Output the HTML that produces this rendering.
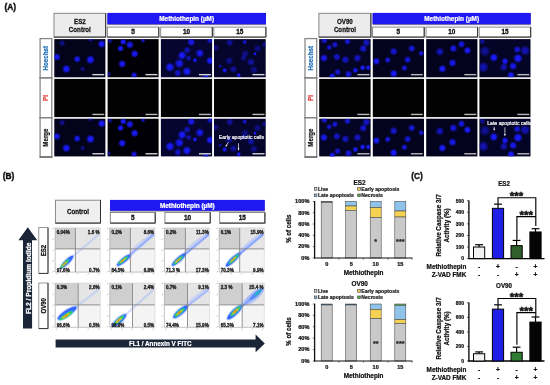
<!DOCTYPE html>
<html><head><meta charset="utf-8"><title>Figure</title>
<style>html,body{margin:0;padding:0;background:#fff}svg{display:block}text{font-family:"Liberation Sans", sans-serif}</style>
</head><body>
<svg width="550" height="385" viewBox="0 0 550 385">
<rect width="550" height="385" fill="#fff"/>
<defs>
<filter id="b1" x="-50%" y="-50%" width="200%" height="200%"><feGaussianBlur stdDeviation="0.65"/></filter>
<filter id="b2" x="-50%" y="-50%" width="200%" height="200%"><feGaussianBlur stdDeviation="0.6"/></filter>
<filter id="b3" x="-50%" y="-50%" width="200%" height="200%"><feGaussianBlur stdDeviation="0.35"/></filter>
<radialGradient id="cg"><stop offset="0" stop-color="#1c1cfa"/><stop offset="0.45" stop-color="#1818f0"/><stop offset="0.72" stop-color="#1414d0" stop-opacity="0.55"/><stop offset="1" stop-color="#1010a0" stop-opacity="0"/></radialGradient>
</defs>
<text transform="translate(4.40 9.90) scale(1 1.12)" font-size="8.4" font-weight="bold" fill="#111" stroke="#111" stroke-width="0.4" text-anchor="start" >(A)</text>
<text transform="translate(2.70 179.20) scale(1 1.12)" font-size="8.4" font-weight="bold" fill="#111" stroke="#111" stroke-width="0.4" text-anchor="start" >(B)</text>
<text transform="translate(411.20 178.90) scale(1 1.12)" font-size="8.4" font-weight="bold" fill="#111" stroke="#111" stroke-width="0.4" text-anchor="start" >(C)</text>
<rect x="54.00" y="13.30" width="51.70" height="23.80" fill="#ececec" stroke="#7d7d7d" stroke-width="0.9"/>
<path d="M105.70 13.30 L105.70 37.10 L54.00 37.10" fill="none" stroke="#2e2e2e" stroke-width="1.00"/>
<text transform="translate(79.85 23.90) scale(1 1.2)" font-size="6.2" font-weight="bold" fill="#111" stroke="#111" stroke-width="0.22" text-anchor="middle" >ES2</text>
<text transform="translate(79.85 31.50) scale(1 1.2)" font-size="6.2" font-weight="bold" fill="#111" stroke="#111" stroke-width="0.22" text-anchor="middle" >Control</text>
<rect x="107.50" y="13.9" width="158.50" height="11.3" fill="#9a9a9a"/>
<rect x="107.30" y="12.9" width="158.70" height="11.4" fill="#2018f2"/>
<text transform="translate(186.65 20.90) scale(1 1.12)" font-size="6.4" font-weight="bold" fill="#fff" stroke="#fff" stroke-width="0.22" text-anchor="middle" >Methiothepin (µM)</text>
<rect x="107.40" y="27.10" width="51.40" height="10.00" fill="#fff" stroke="#7d7d7d" stroke-width="0.9"/>
<path d="M158.80 27.10 L158.80 37.10 L107.40 37.10" fill="none" stroke="#2e2e2e" stroke-width="1.00"/>
<text transform="translate(133.10 34.30) scale(1 1.12)" font-size="6.4" font-weight="bold" fill="#111" stroke="#111" stroke-width="0.3" text-anchor="middle" >5</text>
<rect x="160.70" y="27.10" width="51.60" height="10.00" fill="#fff" stroke="#7d7d7d" stroke-width="0.9"/>
<path d="M212.30 27.10 L212.30 37.10 L160.70 37.10" fill="none" stroke="#2e2e2e" stroke-width="1.00"/>
<text transform="translate(186.50 34.30) scale(1 1.12)" font-size="6.4" font-weight="bold" fill="#111" stroke="#111" stroke-width="0.3" text-anchor="middle" >10</text>
<rect x="213.80" y="27.10" width="52.10" height="10.00" fill="#fff" stroke="#7d7d7d" stroke-width="0.9"/>
<path d="M265.90 27.10 L265.90 37.10 L213.80 37.10" fill="none" stroke="#2e2e2e" stroke-width="1.00"/>
<text transform="translate(239.85 34.30) scale(1 1.12)" font-size="6.4" font-weight="bold" fill="#111" stroke="#111" stroke-width="0.3" text-anchor="middle" >15</text>
<rect x="40.10" y="38.60" width="11.70" height="39.50" fill="#fff" stroke="#868686" stroke-width="1.25"/>
<line x1="39.60" y1="78.10" x2="52.40" y2="78.10" stroke="#3a3a3a" stroke-width="0.9"/>
<text transform="translate(45.95 58.20) rotate(-90) scale(1 1.1)" x="0" y="2.23" font-size="6.2" font-weight="bold" fill="#1f6eb4" stroke="#1f6eb4" stroke-width="0.22" text-anchor="middle">Hoechst</text>
<clipPath id="c1"><rect x="54.30" y="39.10" width="51.10" height="38.20"/></clipPath>
<rect x="54.30" y="39.10" width="51.10" height="38.20" fill="#03031c"/>
<g clip-path="url(#c1)"><g>
<circle cx="101.72" cy="43.99" r="4.30" fill="url(#cg)" fill-opacity="1.00"/>
<circle cx="90.48" cy="59.69" r="4.73" fill="url(#cg)" fill-opacity="1.00"/>
<circle cx="77.19" cy="59.16" r="3.87" fill="url(#cg)" fill-opacity="0.95"/>
<circle cx="56.85" cy="57.05" r="4.02" fill="url(#cg)" fill-opacity="0.95"/>
<circle cx="66.36" cy="68.97" r="4.59" fill="url(#cg)" fill-opacity="1.00"/>
<circle cx="62.17" cy="43.15" r="3.59" fill="url(#cg)" fill-opacity="0.46"/>
<circle cx="82.61" cy="68.97" r="2.87" fill="url(#cg)" fill-opacity="0.46"/>
<circle cx="90.58" cy="39.10" r="3.16" fill="url(#cg)" fill-opacity="0.55"/>
</g></g>
<rect x="92.32" y="73.94" width="11.86" height="1.4" fill="#d6d6d6"/>
<clipPath id="c2"><rect x="107.60" y="39.10" width="51.00" height="38.20"/></clipPath>
<rect x="107.60" y="39.10" width="51.00" height="38.20" fill="#000006"/>
<g clip-path="url(#c2)"><g>
<circle cx="123.21" cy="41.89" r="3.59" fill="url(#cg)" fill-opacity="1.00"/>
<circle cx="129.78" cy="44.75" r="4.30" fill="url(#cg)" fill-opacity="0.91"/>
<circle cx="120.60" cy="48.50" r="3.59" fill="url(#cg)" fill-opacity="1.00"/>
<circle cx="134.63" cy="53.81" r="4.30" fill="url(#cg)" fill-opacity="0.95"/>
<circle cx="122.19" cy="63.93" r="4.30" fill="url(#cg)" fill-opacity="0.95"/>
<circle cx="134.12" cy="75.16" r="3.59" fill="url(#cg)" fill-opacity="0.86"/>
<circle cx="142.99" cy="40.48" r="2.58" fill="url(#cg)" fill-opacity="0.73"/>
<circle cx="110.15" cy="41.01" r="2.87" fill="url(#cg)" fill-opacity="0.55"/>
<circle cx="108.62" cy="74.09" r="2.87" fill="url(#cg)" fill-opacity="0.55"/>
</g></g>
<rect x="145.54" y="73.94" width="11.83" height="1.4" fill="#d6d6d6"/>
<clipPath id="c3"><rect x="160.90" y="39.10" width="51.20" height="38.20"/></clipPath>
<rect x="160.90" y="39.10" width="51.20" height="38.20" fill="#05052f"/>
<g clip-path="url(#c3)"><g>
<circle cx="191.26" cy="42.08" r="4.30" fill="url(#cg)" fill-opacity="0.91"/>
<circle cx="210.05" cy="40.48" r="3.59" fill="url(#cg)" fill-opacity="0.73"/>
<circle cx="187.11" cy="50.10" r="4.02" fill="url(#cg)" fill-opacity="0.64"/>
<circle cx="199.81" cy="53.23" r="4.73" fill="url(#cg)" fill-opacity="0.91"/>
<circle cx="182.15" cy="55.41" r="4.73" fill="url(#cg)" fill-opacity="1.00"/>
<circle cx="188.70" cy="58.09" r="3.16" fill="url(#cg)" fill-opacity="0.64"/>
<circle cx="194.95" cy="60.22" r="2.58" fill="url(#cg)" fill-opacity="1.00"/>
<circle cx="210.05" cy="60.76" r="4.30" fill="url(#cg)" fill-opacity="1.00"/>
<circle cx="179.33" cy="63.43" r="5.02" fill="url(#cg)" fill-opacity="0.91"/>
<circle cx="169.96" cy="67.18" r="5.02" fill="url(#cg)" fill-opacity="1.00"/>
<circle cx="186.91" cy="71.42" r="4.73" fill="url(#cg)" fill-opacity="1.00"/>
<circle cx="177.80" cy="73.02" r="4.02" fill="url(#cg)" fill-opacity="0.73"/>
<circle cx="205.85" cy="77.30" r="4.02" fill="url(#cg)" fill-opacity="0.82"/>
</g></g>
<rect x="198.99" y="73.94" width="11.88" height="1.4" fill="#d6d6d6"/>
<clipPath id="c4"><rect x="214.00" y="39.10" width="51.70" height="38.20"/></clipPath>
<rect x="214.00" y="39.10" width="51.70" height="38.20" fill="#05052c"/>
<g clip-path="url(#c4)"><g>
<circle cx="229.77" cy="42.61" r="4.02" fill="url(#cg)" fill-opacity="0.51"/>
<circle cx="244.66" cy="42.08" r="2.58" fill="url(#cg)" fill-opacity="0.82"/>
<circle cx="215.55" cy="47.89" r="3.59" fill="url(#cg)" fill-opacity="0.46"/>
<circle cx="264.41" cy="44.75" r="2.87" fill="url(#cg)" fill-opacity="0.46"/>
<circle cx="257.58" cy="48.50" r="4.02" fill="url(#cg)" fill-opacity="0.42"/>
<circle cx="255.00" cy="53.81" r="2.01" fill="url(#cg)" fill-opacity="1.00"/>
<circle cx="245.02" cy="53.81" r="4.30" fill="url(#cg)" fill-opacity="0.42"/>
<circle cx="243.47" cy="58.09" r="3.59" fill="url(#cg)" fill-opacity="0.42"/>
<circle cx="229.25" cy="60.76" r="4.30" fill="url(#cg)" fill-opacity="0.46"/>
<circle cx="250.97" cy="62.13" r="4.30" fill="url(#cg)" fill-opacity="0.55"/>
<circle cx="220.31" cy="66.11" r="2.01" fill="url(#cg)" fill-opacity="0.64"/>
<circle cx="224.70" cy="70.35" r="2.87" fill="url(#cg)" fill-opacity="0.91"/>
<circle cx="233.44" cy="69.28" r="4.02" fill="url(#cg)" fill-opacity="0.55"/>
<circle cx="253.91" cy="69.81" r="4.30" fill="url(#cg)" fill-opacity="0.42"/>
<circle cx="238.71" cy="75.16" r="2.58" fill="url(#cg)" fill-opacity="1.00"/>
</g></g>
<rect x="252.46" y="73.94" width="11.99" height="1.4" fill="#d6d6d6"/>
<rect x="40.10" y="78.10" width="11.70" height="39.80" fill="#fff" stroke="#868686" stroke-width="1.25"/>
<line x1="39.60" y1="117.90" x2="52.40" y2="117.90" stroke="#3a3a3a" stroke-width="0.9"/>
<text transform="translate(45.95 98.00) rotate(-90) scale(1 1.1)" x="0" y="2.23" font-size="6.2" font-weight="bold" fill="#e23a3a" stroke="#e23a3a" stroke-width="0.22" text-anchor="middle">PI</text>
<clipPath id="c5"><rect x="54.30" y="78.90" width="51.10" height="38.20"/></clipPath>
<rect x="54.30" y="78.90" width="51.10" height="38.20" fill="#020202"/>
<rect x="92.32" y="113.74" width="11.86" height="1.4" fill="#b8b8b8"/>
<clipPath id="c6"><rect x="107.60" y="78.90" width="51.00" height="38.20"/></clipPath>
<rect x="107.60" y="78.90" width="51.00" height="38.20" fill="#020202"/>
<rect x="145.54" y="113.74" width="11.83" height="1.4" fill="#b8b8b8"/>
<clipPath id="c7"><rect x="160.90" y="78.90" width="51.20" height="38.20"/></clipPath>
<rect x="160.90" y="78.90" width="51.20" height="38.20" fill="#020202"/>
<rect x="198.99" y="113.74" width="11.88" height="1.4" fill="#b8b8b8"/>
<clipPath id="c8"><rect x="214.00" y="78.90" width="51.70" height="38.20"/></clipPath>
<rect x="214.00" y="78.90" width="51.70" height="38.20" fill="#020202"/>
<rect x="252.46" y="113.74" width="11.99" height="1.4" fill="#b8b8b8"/>
<rect x="40.10" y="117.90" width="11.70" height="39.10" fill="#fff" stroke="#868686" stroke-width="1.25"/>
<line x1="39.60" y1="157.00" x2="52.40" y2="157.00" stroke="#3a3a3a" stroke-width="0.9"/>
<text transform="translate(45.95 137.55) rotate(-90) scale(1 1.1)" x="0" y="2.23" font-size="6.2" font-weight="bold" fill="#111" stroke="#111" stroke-width="0.22" text-anchor="middle">Merge</text>
<clipPath id="c9"><rect x="54.30" y="118.70" width="51.10" height="37.70"/></clipPath>
<rect x="54.30" y="118.70" width="51.10" height="37.70" fill="#03031c"/>
<g clip-path="url(#c9)"><g>
<circle cx="101.72" cy="123.53" r="4.30" fill="url(#cg)" fill-opacity="1.00"/>
<circle cx="90.48" cy="139.02" r="4.73" fill="url(#cg)" fill-opacity="1.00"/>
<circle cx="77.19" cy="138.49" r="3.87" fill="url(#cg)" fill-opacity="0.95"/>
<circle cx="56.85" cy="136.42" r="4.02" fill="url(#cg)" fill-opacity="0.95"/>
<circle cx="66.36" cy="148.18" r="4.59" fill="url(#cg)" fill-opacity="1.00"/>
<circle cx="62.17" cy="122.70" r="3.59" fill="url(#cg)" fill-opacity="0.46"/>
<circle cx="82.61" cy="148.18" r="2.87" fill="url(#cg)" fill-opacity="0.46"/>
<circle cx="90.58" cy="118.70" r="3.16" fill="url(#cg)" fill-opacity="0.55"/>
</g></g>
<rect x="92.32" y="153.08" width="11.86" height="1.4" fill="#d6d6d6"/>
<clipPath id="c10"><rect x="107.60" y="118.70" width="51.00" height="37.70"/></clipPath>
<rect x="107.60" y="118.70" width="51.00" height="37.70" fill="#000006"/>
<g clip-path="url(#c10)"><g>
<circle cx="123.21" cy="121.45" r="3.59" fill="url(#cg)" fill-opacity="1.00"/>
<circle cx="129.78" cy="124.28" r="4.30" fill="url(#cg)" fill-opacity="0.91"/>
<circle cx="120.60" cy="127.97" r="3.59" fill="url(#cg)" fill-opacity="1.00"/>
<circle cx="134.63" cy="133.21" r="4.30" fill="url(#cg)" fill-opacity="0.95"/>
<circle cx="122.19" cy="143.21" r="4.30" fill="url(#cg)" fill-opacity="0.95"/>
<circle cx="134.12" cy="154.29" r="3.59" fill="url(#cg)" fill-opacity="0.86"/>
<circle cx="142.99" cy="120.06" r="2.58" fill="url(#cg)" fill-opacity="0.73"/>
<circle cx="110.15" cy="120.59" r="2.87" fill="url(#cg)" fill-opacity="0.55"/>
<circle cx="108.62" cy="153.23" r="2.87" fill="url(#cg)" fill-opacity="0.55"/>
</g></g>
<rect x="145.54" y="153.08" width="11.83" height="1.4" fill="#d6d6d6"/>
<clipPath id="c11"><rect x="160.90" y="118.70" width="51.20" height="37.70"/></clipPath>
<rect x="160.90" y="118.70" width="51.20" height="37.70" fill="#05052f"/>
<g clip-path="url(#c11)"><g>
<circle cx="191.26" cy="121.64" r="4.30" fill="url(#cg)" fill-opacity="0.91"/>
<circle cx="210.05" cy="120.06" r="3.59" fill="url(#cg)" fill-opacity="0.73"/>
<circle cx="187.11" cy="129.56" r="4.02" fill="url(#cg)" fill-opacity="0.64"/>
<circle cx="199.81" cy="132.65" r="4.73" fill="url(#cg)" fill-opacity="0.91"/>
<circle cx="182.15" cy="134.80" r="4.73" fill="url(#cg)" fill-opacity="1.00"/>
<circle cx="188.70" cy="137.44" r="3.16" fill="url(#cg)" fill-opacity="0.64"/>
<circle cx="194.95" cy="139.55" r="2.58" fill="url(#cg)" fill-opacity="1.00"/>
<circle cx="210.05" cy="140.08" r="4.30" fill="url(#cg)" fill-opacity="1.00"/>
<circle cx="179.33" cy="142.71" r="5.02" fill="url(#cg)" fill-opacity="0.91"/>
<circle cx="169.96" cy="146.41" r="5.02" fill="url(#cg)" fill-opacity="1.00"/>
<circle cx="186.91" cy="150.59" r="4.73" fill="url(#cg)" fill-opacity="1.00"/>
<circle cx="177.80" cy="152.18" r="4.02" fill="url(#cg)" fill-opacity="0.73"/>
<circle cx="205.85" cy="156.40" r="4.02" fill="url(#cg)" fill-opacity="0.82"/>
</g></g>
<rect x="198.99" y="153.08" width="11.88" height="1.4" fill="#d6d6d6"/>
<clipPath id="c12"><rect x="214.00" y="118.70" width="51.70" height="37.70"/></clipPath>
<rect x="214.00" y="118.70" width="51.70" height="37.70" fill="#05052c"/>
<g clip-path="url(#c12)"><g>
<circle cx="229.77" cy="122.17" r="4.02" fill="url(#cg)" fill-opacity="0.51"/>
<circle cx="244.66" cy="121.64" r="2.58" fill="url(#cg)" fill-opacity="0.82"/>
<circle cx="215.55" cy="127.37" r="3.59" fill="url(#cg)" fill-opacity="0.46"/>
<circle cx="264.41" cy="124.28" r="2.87" fill="url(#cg)" fill-opacity="0.46"/>
<circle cx="257.58" cy="127.97" r="4.02" fill="url(#cg)" fill-opacity="0.42"/>
<circle cx="255.00" cy="133.21" r="2.01" fill="url(#cg)" fill-opacity="1.00"/>
<circle cx="245.02" cy="133.21" r="4.30" fill="url(#cg)" fill-opacity="0.42"/>
<circle cx="243.47" cy="137.44" r="3.59" fill="url(#cg)" fill-opacity="0.42"/>
<circle cx="229.25" cy="140.08" r="4.30" fill="url(#cg)" fill-opacity="0.46"/>
<circle cx="250.97" cy="141.43" r="4.30" fill="url(#cg)" fill-opacity="0.55"/>
<circle cx="220.31" cy="145.35" r="2.01" fill="url(#cg)" fill-opacity="0.64"/>
<circle cx="224.70" cy="149.54" r="2.87" fill="url(#cg)" fill-opacity="0.91"/>
<circle cx="233.44" cy="148.48" r="4.02" fill="url(#cg)" fill-opacity="0.55"/>
<circle cx="253.91" cy="149.01" r="4.30" fill="url(#cg)" fill-opacity="0.42"/>
<circle cx="238.71" cy="154.29" r="2.58" fill="url(#cg)" fill-opacity="1.00"/>
</g></g>
<rect x="252.46" y="153.08" width="11.99" height="1.4" fill="#d6d6d6"/>
<rect x="318.90" y="13.30" width="52.00" height="23.80" fill="#ececec" stroke="#7d7d7d" stroke-width="0.9"/>
<path d="M370.90 13.30 L370.90 37.10 L318.90 37.10" fill="none" stroke="#2e2e2e" stroke-width="1.00"/>
<text transform="translate(344.90 23.90) scale(1 1.2)" font-size="6.2" font-weight="bold" fill="#111" stroke="#111" stroke-width="0.22" text-anchor="middle" >OV90</text>
<text transform="translate(344.90 31.50) scale(1 1.2)" font-size="6.2" font-weight="bold" fill="#111" stroke="#111" stroke-width="0.22" text-anchor="middle" >Control</text>
<rect x="372.70" y="13.9" width="158.10" height="11.3" fill="#9a9a9a"/>
<rect x="372.50" y="12.9" width="158.30" height="11.4" fill="#2018f2"/>
<text transform="translate(451.65 20.90) scale(1 1.12)" font-size="6.4" font-weight="bold" fill="#fff" stroke="#fff" stroke-width="0.22" text-anchor="middle" >Methiothepin (µM)</text>
<rect x="372.60" y="27.10" width="51.60" height="10.00" fill="#fff" stroke="#7d7d7d" stroke-width="0.9"/>
<path d="M424.20 27.10 L424.20 37.10 L372.60 37.10" fill="none" stroke="#2e2e2e" stroke-width="1.00"/>
<text transform="translate(398.40 34.30) scale(1 1.12)" font-size="6.4" font-weight="bold" fill="#111" stroke="#111" stroke-width="0.3" text-anchor="middle" >5</text>
<rect x="426.00" y="27.10" width="51.60" height="10.00" fill="#fff" stroke="#7d7d7d" stroke-width="0.9"/>
<path d="M477.60 27.10 L477.60 37.10 L426.00 37.10" fill="none" stroke="#2e2e2e" stroke-width="1.00"/>
<text transform="translate(451.80 34.30) scale(1 1.12)" font-size="6.4" font-weight="bold" fill="#111" stroke="#111" stroke-width="0.3" text-anchor="middle" >10</text>
<rect x="479.20" y="27.10" width="51.50" height="10.00" fill="#fff" stroke="#7d7d7d" stroke-width="0.9"/>
<path d="M530.70 27.10 L530.70 37.10 L479.20 37.10" fill="none" stroke="#2e2e2e" stroke-width="1.00"/>
<text transform="translate(504.95 34.30) scale(1 1.12)" font-size="6.4" font-weight="bold" fill="#111" stroke="#111" stroke-width="0.3" text-anchor="middle" >15</text>
<rect x="305.00" y="38.60" width="11.70" height="39.50" fill="#fff" stroke="#868686" stroke-width="1.25"/>
<line x1="304.50" y1="78.10" x2="317.30" y2="78.10" stroke="#3a3a3a" stroke-width="0.9"/>
<text transform="translate(310.85 58.20) rotate(-90) scale(1 1.1)" x="0" y="2.23" font-size="6.2" font-weight="bold" fill="#1f6eb4" stroke="#1f6eb4" stroke-width="0.22" text-anchor="middle">Hoechst</text>
<clipPath id="c13"><rect x="319.20" y="39.10" width="51.40" height="38.20"/></clipPath>
<rect x="319.20" y="39.10" width="51.40" height="38.20" fill="#040424"/>
<g clip-path="url(#c13)"><g>
<circle cx="324.34" cy="40.48" r="3.59" fill="url(#cg)" fill-opacity="0.82"/>
<circle cx="347.47" cy="41.54" r="3.59" fill="url(#cg)" fill-opacity="0.82"/>
<circle cx="366.39" cy="42.61" r="4.30" fill="url(#cg)" fill-opacity="0.73"/>
<circle cx="334.93" cy="44.75" r="3.59" fill="url(#cg)" fill-opacity="0.78"/>
<circle cx="329.17" cy="47.43" r="3.16" fill="url(#cg)" fill-opacity="0.78"/>
<circle cx="363.25" cy="48.50" r="4.30" fill="url(#cg)" fill-opacity="0.78"/>
<circle cx="323.93" cy="58.09" r="4.30" fill="url(#cg)" fill-opacity="0.91"/>
<circle cx="336.83" cy="57.02" r="4.02" fill="url(#cg)" fill-opacity="0.78"/>
<circle cx="345.41" cy="59.69" r="4.30" fill="url(#cg)" fill-opacity="0.73"/>
<circle cx="357.49" cy="58.09" r="4.30" fill="url(#cg)" fill-opacity="0.73"/>
<circle cx="362.74" cy="67.71" r="3.16" fill="url(#cg)" fill-opacity="1.00"/>
<circle cx="368.29" cy="67.71" r="2.87" fill="url(#cg)" fill-opacity="1.00"/>
<circle cx="355.39" cy="70.35" r="3.16" fill="url(#cg)" fill-opacity="1.00"/>
<circle cx="337.55" cy="71.95" r="3.59" fill="url(#cg)" fill-opacity="0.82"/>
<circle cx="348.55" cy="74.09" r="4.02" fill="url(#cg)" fill-opacity="0.86"/>
<circle cx="332.31" cy="76.23" r="3.59" fill="url(#cg)" fill-opacity="1.00"/>
</g></g>
<rect x="357.44" y="73.94" width="11.92" height="1.4" fill="#b8b8b8"/>
<clipPath id="c14"><rect x="372.80" y="39.10" width="51.20" height="38.20"/></clipPath>
<rect x="372.80" y="39.10" width="51.20" height="38.20" fill="#03031e"/>
<g clip-path="url(#c14)"><g>
<circle cx="411.76" cy="48.50" r="4.02" fill="url(#cg)" fill-opacity="0.82"/>
<circle cx="393.69" cy="51.48" r="4.30" fill="url(#cg)" fill-opacity="0.78"/>
<circle cx="421.18" cy="53.31" r="3.16" fill="url(#cg)" fill-opacity="0.82"/>
<circle cx="376.44" cy="61.29" r="4.02" fill="url(#cg)" fill-opacity="1.00"/>
<circle cx="387.75" cy="60.00" r="3.44" fill="url(#cg)" fill-opacity="0.86"/>
<circle cx="407.62" cy="59.69" r="4.02" fill="url(#cg)" fill-opacity="0.82"/>
<circle cx="404.44" cy="68.02" r="3.44" fill="url(#cg)" fill-opacity="0.86"/>
<circle cx="393.69" cy="73.56" r="4.30" fill="url(#cg)" fill-opacity="1.00"/>
</g></g>
<rect x="410.89" y="73.94" width="11.88" height="1.4" fill="#b8b8b8"/>
<clipPath id="c15"><rect x="426.20" y="39.10" width="51.20" height="38.20"/></clipPath>
<rect x="426.20" y="39.10" width="51.20" height="38.20" fill="#03031e"/>
<g clip-path="url(#c15)"><g>
<circle cx="461.53" cy="44.22" r="4.02" fill="url(#cg)" fill-opacity="0.86"/>
<circle cx="453.34" cy="48.50" r="4.30" fill="url(#cg)" fill-opacity="0.86"/>
<circle cx="467.47" cy="50.41" r="4.02" fill="url(#cg)" fill-opacity="1.00"/>
<circle cx="439.77" cy="51.71" r="4.59" fill="url(#cg)" fill-opacity="0.69"/>
<circle cx="452.52" cy="62.90" r="4.30" fill="url(#cg)" fill-opacity="0.91"/>
<circle cx="442.38" cy="68.78" r="4.30" fill="url(#cg)" fill-opacity="1.00"/>
</g></g>
<rect x="464.29" y="73.94" width="11.88" height="1.4" fill="#b8b8b8"/>
<clipPath id="c16"><rect x="479.40" y="39.10" width="51.10" height="38.20"/></clipPath>
<rect x="479.40" y="39.10" width="51.10" height="38.20" fill="#040426"/>
<g clip-path="url(#c16)"><g>
<circle cx="482.31" cy="41.54" r="3.16" fill="url(#cg)" fill-opacity="0.55"/>
<circle cx="484.92" cy="51.17" r="5.74" fill="url(#cg)" fill-opacity="0.51"/>
<circle cx="517.21" cy="49.57" r="4.02" fill="url(#cg)" fill-opacity="0.82"/>
<circle cx="525.08" cy="50.56" r="5.45" fill="url(#cg)" fill-opacity="0.64"/>
<circle cx="493.81" cy="57.55" r="4.59" fill="url(#cg)" fill-opacity="1.00"/>
<circle cx="517.98" cy="58.31" r="5.02" fill="url(#cg)" fill-opacity="1.00"/>
<circle cx="505.05" cy="61.29" r="3.73" fill="url(#cg)" fill-opacity="1.00"/>
<circle cx="483.39" cy="67.18" r="5.74" fill="url(#cg)" fill-opacity="0.64"/>
<circle cx="503.72" cy="67.18" r="4.30" fill="url(#cg)" fill-opacity="0.64"/>
<circle cx="513.13" cy="66.11" r="4.30" fill="url(#cg)" fill-opacity="0.91"/>
<circle cx="510.98" cy="75.16" r="4.02" fill="url(#cg)" fill-opacity="1.00"/>
</g></g>
<rect x="517.42" y="73.94" width="11.86" height="1.4" fill="#b8b8b8"/>
<rect x="305.00" y="78.10" width="11.70" height="39.80" fill="#fff" stroke="#868686" stroke-width="1.25"/>
<line x1="304.50" y1="117.90" x2="317.30" y2="117.90" stroke="#3a3a3a" stroke-width="0.9"/>
<text transform="translate(310.85 98.00) rotate(-90) scale(1 1.1)" x="0" y="2.23" font-size="6.2" font-weight="bold" fill="#e23a3a" stroke="#e23a3a" stroke-width="0.22" text-anchor="middle">PI</text>
<clipPath id="c17"><rect x="319.20" y="78.90" width="51.40" height="38.20"/></clipPath>
<rect x="319.20" y="78.90" width="51.40" height="38.20" fill="#020202"/>
<rect x="357.44" y="113.74" width="11.92" height="1.4" fill="#b8b8b8"/>
<clipPath id="c18"><rect x="372.80" y="78.90" width="51.20" height="38.20"/></clipPath>
<rect x="372.80" y="78.90" width="51.20" height="38.20" fill="#020202"/>
<rect x="410.89" y="113.74" width="11.88" height="1.4" fill="#b8b8b8"/>
<clipPath id="c19"><rect x="426.20" y="78.90" width="51.20" height="38.20"/></clipPath>
<rect x="426.20" y="78.90" width="51.20" height="38.20" fill="#020202"/>
<rect x="464.29" y="113.74" width="11.88" height="1.4" fill="#b8b8b8"/>
<clipPath id="c20"><rect x="479.40" y="78.90" width="51.10" height="38.20"/></clipPath>
<rect x="479.40" y="78.90" width="51.10" height="38.20" fill="#020202"/>
<rect x="517.42" y="113.74" width="11.86" height="1.4" fill="#b8b8b8"/>
<rect x="305.00" y="117.90" width="11.70" height="39.10" fill="#fff" stroke="#868686" stroke-width="1.25"/>
<line x1="304.50" y1="157.00" x2="317.30" y2="157.00" stroke="#3a3a3a" stroke-width="0.9"/>
<text transform="translate(310.85 137.55) rotate(-90) scale(1 1.1)" x="0" y="2.23" font-size="6.2" font-weight="bold" fill="#111" stroke="#111" stroke-width="0.22" text-anchor="middle">Merge</text>
<clipPath id="c21"><rect x="319.20" y="118.70" width="51.40" height="37.70"/></clipPath>
<rect x="319.20" y="118.70" width="51.40" height="37.70" fill="#040424"/>
<g clip-path="url(#c21)"><g>
<circle cx="324.34" cy="120.06" r="3.59" fill="url(#cg)" fill-opacity="0.82"/>
<circle cx="347.47" cy="121.11" r="3.59" fill="url(#cg)" fill-opacity="0.82"/>
<circle cx="366.39" cy="122.17" r="4.30" fill="url(#cg)" fill-opacity="0.73"/>
<circle cx="334.93" cy="124.28" r="3.59" fill="url(#cg)" fill-opacity="0.78"/>
<circle cx="329.17" cy="126.92" r="3.16" fill="url(#cg)" fill-opacity="0.78"/>
<circle cx="363.25" cy="127.97" r="4.30" fill="url(#cg)" fill-opacity="0.78"/>
<circle cx="323.93" cy="137.44" r="4.30" fill="url(#cg)" fill-opacity="0.91"/>
<circle cx="336.83" cy="136.38" r="4.02" fill="url(#cg)" fill-opacity="0.78"/>
<circle cx="345.41" cy="139.02" r="4.30" fill="url(#cg)" fill-opacity="0.73"/>
<circle cx="357.49" cy="137.44" r="4.30" fill="url(#cg)" fill-opacity="0.73"/>
<circle cx="362.74" cy="146.94" r="3.16" fill="url(#cg)" fill-opacity="1.00"/>
<circle cx="368.29" cy="146.94" r="2.87" fill="url(#cg)" fill-opacity="1.00"/>
<circle cx="355.39" cy="149.54" r="3.16" fill="url(#cg)" fill-opacity="1.00"/>
<circle cx="337.55" cy="151.12" r="3.59" fill="url(#cg)" fill-opacity="0.82"/>
<circle cx="348.55" cy="153.23" r="4.02" fill="url(#cg)" fill-opacity="0.86"/>
<circle cx="332.31" cy="155.34" r="3.59" fill="url(#cg)" fill-opacity="1.00"/>
</g></g>
<rect x="357.44" y="153.08" width="11.92" height="1.4" fill="#b8b8b8"/>
<clipPath id="c22"><rect x="372.80" y="118.70" width="51.20" height="37.70"/></clipPath>
<rect x="372.80" y="118.70" width="51.20" height="37.70" fill="#03031e"/>
<g clip-path="url(#c22)"><g>
<circle cx="411.76" cy="127.97" r="4.02" fill="url(#cg)" fill-opacity="0.82"/>
<circle cx="393.69" cy="130.91" r="4.30" fill="url(#cg)" fill-opacity="0.78"/>
<circle cx="421.18" cy="132.72" r="3.16" fill="url(#cg)" fill-opacity="0.82"/>
<circle cx="376.44" cy="140.60" r="4.02" fill="url(#cg)" fill-opacity="1.00"/>
<circle cx="387.75" cy="139.32" r="3.44" fill="url(#cg)" fill-opacity="0.86"/>
<circle cx="407.62" cy="139.02" r="4.02" fill="url(#cg)" fill-opacity="0.82"/>
<circle cx="404.44" cy="147.24" r="3.44" fill="url(#cg)" fill-opacity="0.86"/>
<circle cx="393.69" cy="152.71" r="4.30" fill="url(#cg)" fill-opacity="1.00"/>
</g></g>
<rect x="410.89" y="153.08" width="11.88" height="1.4" fill="#b8b8b8"/>
<clipPath id="c23"><rect x="426.20" y="118.70" width="51.20" height="37.70"/></clipPath>
<rect x="426.20" y="118.70" width="51.20" height="37.70" fill="#03031e"/>
<g clip-path="url(#c23)"><g>
<circle cx="461.53" cy="123.75" r="4.02" fill="url(#cg)" fill-opacity="0.86"/>
<circle cx="453.34" cy="127.97" r="4.30" fill="url(#cg)" fill-opacity="0.86"/>
<circle cx="467.47" cy="129.86" r="4.02" fill="url(#cg)" fill-opacity="1.00"/>
<circle cx="439.77" cy="131.14" r="4.59" fill="url(#cg)" fill-opacity="0.69"/>
<circle cx="452.52" cy="142.19" r="4.30" fill="url(#cg)" fill-opacity="0.91"/>
<circle cx="442.38" cy="147.99" r="4.30" fill="url(#cg)" fill-opacity="1.00"/>
</g></g>
<rect x="464.29" y="153.08" width="11.88" height="1.4" fill="#b8b8b8"/>
<clipPath id="c24"><rect x="479.40" y="118.70" width="51.10" height="37.70"/></clipPath>
<rect x="479.40" y="118.70" width="51.10" height="37.70" fill="#040426"/>
<g clip-path="url(#c24)"><g>
<circle cx="482.31" cy="121.11" r="3.16" fill="url(#cg)" fill-opacity="0.55"/>
<circle cx="484.92" cy="130.61" r="5.74" fill="url(#cg)" fill-opacity="0.51"/>
<circle cx="517.21" cy="129.03" r="4.02" fill="url(#cg)" fill-opacity="0.82"/>
<circle cx="525.08" cy="130.01" r="5.45" fill="url(#cg)" fill-opacity="0.64"/>
<circle cx="493.81" cy="136.91" r="4.59" fill="url(#cg)" fill-opacity="1.00"/>
<circle cx="517.98" cy="137.66" r="5.02" fill="url(#cg)" fill-opacity="1.00"/>
<circle cx="505.05" cy="140.60" r="3.73" fill="url(#cg)" fill-opacity="1.00"/>
<circle cx="483.39" cy="146.41" r="5.74" fill="url(#cg)" fill-opacity="0.64"/>
<circle cx="503.72" cy="146.41" r="4.30" fill="url(#cg)" fill-opacity="0.64"/>
<circle cx="513.13" cy="145.35" r="4.30" fill="url(#cg)" fill-opacity="0.91"/>
<circle cx="510.98" cy="154.29" r="4.02" fill="url(#cg)" fill-opacity="1.00"/>
</g></g>
<rect x="517.42" y="153.08" width="11.86" height="1.4" fill="#b8b8b8"/>
<text transform="translate(241.40 139.00) scale(1 1.12)" font-size="5.1" font-weight="normal" fill="#f4f4f4" stroke="#f4f4f4" stroke-width="0.22" text-anchor="middle" >Early apoptotic cells</text>
<g stroke="#fff" stroke-width="0.7" fill="#fff">
<line x1="228.3" y1="142.3" x2="226.4" y2="145.6"/><path d="M225.6 146.9 L225.9 144.6 L227.5 145.6Z" stroke="none"/>
<line x1="238.5" y1="143.3" x2="238.5" y2="149.5"/><path d="M238.5 150.6 L237.5 148.6 L239.5 148.6Z" stroke="none"/>
<line x1="494.2" y1="126.8" x2="494.2" y2="129.6"/><path d="M494.2 130.8 L493.2 128.8 L495.2 128.8Z" stroke="none"/>
<line x1="504.9" y1="127.3" x2="504.9" y2="135"/><path d="M504.9 136.2 L503.9 134.2 L505.9 134.2Z" stroke="none"/>
</g>
<text transform="translate(509.20 124.90) scale(1 1.12)" font-size="5.15" font-weight="normal" fill="#f4f4f4" stroke="#f4f4f4" stroke-width="0.22" text-anchor="middle" >Late apoptotic cells</text>
<path d="M27.8 227.2 L37.2 240.2 L32 240.2 L32.1 328.4 L23.0 328.4 L23.0 240.2 L18.4 240.2 Z" fill="#1a2638"/>
<text transform="translate(27.90 278.30) rotate(-90) scale(1 1.2)" x="0" y="2.39" font-size="6.65" font-weight="bold" fill="#fff" stroke="#fff" stroke-width="0.22" text-anchor="middle">FL2 / Propidium Iodide</text>
<path d="M55.6 339.4 L255.6 339.4 L255.6 334.6 L264.8 343.4 L255.6 352.2 L255.6 347.4 L55.6 347.4 Z" fill="#1a2638"/>
<text transform="translate(160.20 345.70) scale(1 1.12)" font-size="6.3" font-weight="bold" fill="#fff" stroke="#fff" stroke-width="0.22" text-anchor="middle" >FL1 / Annexin V FITC</text>
<rect x="55.40" y="200.20" width="45.10" height="22.90" fill="#efefef" stroke="#7d7d7d" stroke-width="0.9"/>
<path d="M100.50 200.20 L100.50 223.10 L55.40 223.10" fill="none" stroke="#2e2e2e" stroke-width="1.00"/>
<text transform="translate(78.00 214.20) scale(1 1.2)" font-size="6.2" font-weight="bold" fill="#111" stroke="#111" stroke-width="0.22" text-anchor="middle" >Control</text>
<rect x="110.2" y="200.9" width="154.6" height="10.8" fill="#9a9a9a"/>
<rect x="110.0" y="199.9" width="154.8" height="10.9" fill="#2018f2"/>
<text transform="translate(187.30 207.50) scale(1 1.12)" font-size="6.4" font-weight="bold" fill="#fff" stroke="#fff" stroke-width="0.22" text-anchor="middle" >Methiothepin (µM)</text>
<rect x="110.30" y="212.50" width="44.90" height="10.60" fill="#fff" stroke="#7d7d7d" stroke-width="0.9"/>
<path d="M155.20 212.50 L155.20 223.10 L110.30 223.10" fill="none" stroke="#2e2e2e" stroke-width="1.00"/>
<text transform="translate(132.70 220.40) scale(1 1.12)" font-size="6.4" font-weight="bold" fill="#111" stroke="#111" stroke-width="0.3" text-anchor="middle" >5</text>
<rect x="164.90" y="212.50" width="45.30" height="10.60" fill="#fff" stroke="#7d7d7d" stroke-width="0.9"/>
<path d="M210.20 212.50 L210.20 223.10 L164.90 223.10" fill="none" stroke="#2e2e2e" stroke-width="1.00"/>
<text transform="translate(187.50 220.40) scale(1 1.12)" font-size="6.4" font-weight="bold" fill="#111" stroke="#111" stroke-width="0.3" text-anchor="middle" >10</text>
<rect x="219.70" y="212.50" width="45.20" height="10.60" fill="#fff" stroke="#7d7d7d" stroke-width="0.9"/>
<path d="M264.90 212.50 L264.90 223.10 L219.70 223.10" fill="none" stroke="#2e2e2e" stroke-width="1.00"/>
<text transform="translate(242.25 220.40) scale(1 1.12)" font-size="6.4" font-weight="bold" fill="#111" stroke="#111" stroke-width="0.3" text-anchor="middle" >15</text>
<rect x="38.80" y="227.60" width="9.20" height="45.80" fill="#fff" stroke="#7d7d7d" stroke-width="0.8"/>
<path d="M48.00 227.60 L48.00 273.40 L38.80 273.40" fill="none" stroke="#2e2e2e" stroke-width="0.90"/>
<text transform="translate(43.30 250.50) rotate(-90) scale(1 1.25)" x="0" y="2.20" font-size="6.1" font-weight="bold" fill="#111" stroke="#111" stroke-width="0.22" text-anchor="middle">ES2</text>
<rect x="38.80" y="283.00" width="9.20" height="45.60" fill="#fff" stroke="#7d7d7d" stroke-width="0.8"/>
<path d="M48.00 283.00 L48.00 328.60 L38.80 328.60" fill="none" stroke="#2e2e2e" stroke-width="0.90"/>
<text transform="translate(43.30 305.80) rotate(-90) scale(1 1.25)" x="0" y="2.20" font-size="6.1" font-weight="bold" fill="#111" stroke="#111" stroke-width="0.22" text-anchor="middle">OV90</text>
<g transform="translate(55.20 227.90)">
<rect x="0" y="0" width="20.20" height="21.0" fill="#cfcfcf"/>
<rect x="20.20" y="0" width="24.90" height="21.0" fill="#e5e5e5"/>
<rect x="0" y="21.0" width="20.20" height="23.20" fill="#fff"/>
<rect x="20.20" y="21.0" width="24.90" height="23.20" fill="#f4f4f4"/>
<clipPath id="f0"><rect x="0" y="0" width="45.1" height="44.2"/></clipPath>
<g clip-path="url(#f0)">
<g filter="url(#b2)">
<line x1="17.49" y1="28.41" x2="43.20" y2="6.83" stroke="#9db4ff" stroke-width="2.44" stroke-opacity="0.27" stroke-linecap="round"/>
<line x1="11.99" y1="33.91" x2="43.20" y2="6.83" stroke="#4f7cff" stroke-width="0.65" stroke-opacity="0.26" stroke-linecap="round"/>
</g>
<g filter="url(#b2)"><ellipse cx="11.99" cy="33.91" rx="9.38" ry="3.40" transform="rotate(-45.0 11.99 33.91)" fill="#8aa6ff" fill-opacity="0.5"/>
<ellipse cx="11.99" cy="33.91" rx="8.18" ry="2.20" transform="rotate(-45.0 11.99 33.91)" fill="#3566ff"/></g>
<g filter="url(#b3)" transform="rotate(-45.0 9.24 35.98)">
<ellipse cx="9.74" cy="35.98" rx="6.22" ry="1.63" fill="#19c4c0"/>
<ellipse cx="9.54" cy="35.98" rx="5.10" ry="1.23" fill="#45d23a"/>
<ellipse cx="9.24" cy="35.98" rx="3.11" ry="0.75" fill="#f2c41e"/>
<ellipse cx="9.24" cy="35.98" rx="1.74" ry="0.44" fill="#f0601e"/>
</g>
</g>
<line x1="20.20" y1="0" x2="20.20" y2="44.2" stroke="#858585" stroke-width="0.9"/>
<line x1="0" y1="21.0" x2="45.1" y2="21.0" stroke="#858585" stroke-width="0.9"/>
<path d="M0 0 L0 44.2 L45.1 44.2" fill="none" stroke="#9a9a9a" stroke-width="0.6"/>
<path d="M0 0 L45.1 0 L45.1 44.2" fill="none" stroke="#c8c8c8" stroke-width="0.5"/>
<line x1="-2.6" y1="1.00" x2="-1.4" y2="-0.20" stroke="#808080" stroke-width="0.6"/>
<line x1="-2.6" y1="11.85" x2="-1.4" y2="10.65" stroke="#808080" stroke-width="0.6"/>
<line x1="-2.6" y1="22.70" x2="-1.4" y2="21.50" stroke="#808080" stroke-width="0.6"/>
<line x1="-2.6" y1="33.55" x2="-1.4" y2="32.35" stroke="#808080" stroke-width="0.6"/>
<line x1="-2.6" y1="44.40" x2="-1.4" y2="43.20" stroke="#808080" stroke-width="0.6"/>
<line x1="1.00" y1="46.6" x2="2.00" y2="45.400000000000006" stroke="#808080" stroke-width="0.6"/>
<line x1="11.53" y1="46.6" x2="12.53" y2="45.400000000000006" stroke="#808080" stroke-width="0.6"/>
<line x1="22.05" y1="46.6" x2="23.05" y2="45.400000000000006" stroke="#808080" stroke-width="0.6"/>
<line x1="32.58" y1="46.6" x2="33.58" y2="45.400000000000006" stroke="#808080" stroke-width="0.6"/>
<line x1="43.10" y1="46.6" x2="44.10" y2="45.400000000000006" stroke="#808080" stroke-width="0.6"/>
<text transform="translate(1.60 6.10) scale(1 1.12)" font-size="4.55" font-weight="bold" fill="#222" stroke="#222" stroke-width="0.3" text-anchor="start" >0.04%</text>
<text transform="translate(44.30 6.10) scale(1 1.12)" font-size="4.55" font-weight="bold" fill="#222" stroke="#222" stroke-width="0.3" text-anchor="end" >1.6 %</text>
<text transform="translate(1.60 44.10) scale(1 1.12)" font-size="4.55" font-weight="bold" fill="#222" stroke="#222" stroke-width="0.3" text-anchor="start" >97.6%</text>
<text transform="translate(44.30 44.10) scale(1 1.12)" font-size="4.55" font-weight="bold" fill="#222" stroke="#222" stroke-width="0.3" text-anchor="end" >0.7%</text>
</g>
<g transform="translate(109.80 227.90)">
<rect x="0" y="0" width="20.60" height="21.0" fill="#cfcfcf"/>
<rect x="20.60" y="0" width="24.50" height="21.0" fill="#e5e5e5"/>
<rect x="0" y="21.0" width="20.60" height="23.20" fill="#fff"/>
<rect x="20.60" y="21.0" width="24.50" height="23.20" fill="#f4f4f4"/>
<clipPath id="f1"><rect x="0" y="0" width="45.1" height="44.2"/></clipPath>
<g clip-path="url(#f1)">
<g filter="url(#b2)">
<line x1="20.64" y1="27.04" x2="43.60" y2="6.83" stroke="#9db4ff" stroke-width="3.32" stroke-opacity="0.43" stroke-linecap="round"/>
<line x1="14.11" y1="32.19" x2="43.60" y2="6.83" stroke="#4f7cff" stroke-width="1.20" stroke-opacity="0.67" stroke-linecap="round"/>
<ellipse cx="31.12" cy="15.93" rx="15.30" ry="2.3" transform="rotate(-41.4 31.12 15.93)" fill="#a9bcff" fill-opacity="0.47"/>
</g>
<g filter="url(#b2)"><ellipse cx="14.11" cy="32.19" rx="9.92" ry="3.40" transform="rotate(-38.3 14.11 32.19)" fill="#8aa6ff" fill-opacity="0.5"/>
<ellipse cx="14.11" cy="32.19" rx="8.72" ry="2.20" transform="rotate(-38.3 14.11 32.19)" fill="#3566ff"/></g>
<g filter="url(#b3)" transform="rotate(-38.3 13.08 32.54)">
<ellipse cx="13.58" cy="32.54" rx="6.63" ry="1.63" fill="#19c4c0"/>
<ellipse cx="13.38" cy="32.54" rx="5.44" ry="1.23" fill="#45d23a"/>
<ellipse cx="13.08" cy="32.54" rx="3.31" ry="0.75" fill="#f2c41e"/>
<ellipse cx="13.08" cy="32.54" rx="1.86" ry="0.44" fill="#f0601e"/>
</g>
</g>
<line x1="20.60" y1="0" x2="20.60" y2="44.2" stroke="#858585" stroke-width="0.9"/>
<line x1="0" y1="21.0" x2="45.1" y2="21.0" stroke="#858585" stroke-width="0.9"/>
<path d="M0 0 L0 44.2 L45.1 44.2" fill="none" stroke="#9a9a9a" stroke-width="0.6"/>
<path d="M0 0 L45.1 0 L45.1 44.2" fill="none" stroke="#c8c8c8" stroke-width="0.5"/>
<line x1="-2.6" y1="1.00" x2="-1.4" y2="-0.20" stroke="#808080" stroke-width="0.6"/>
<line x1="-2.6" y1="11.85" x2="-1.4" y2="10.65" stroke="#808080" stroke-width="0.6"/>
<line x1="-2.6" y1="22.70" x2="-1.4" y2="21.50" stroke="#808080" stroke-width="0.6"/>
<line x1="-2.6" y1="33.55" x2="-1.4" y2="32.35" stroke="#808080" stroke-width="0.6"/>
<line x1="-2.6" y1="44.40" x2="-1.4" y2="43.20" stroke="#808080" stroke-width="0.6"/>
<line x1="1.00" y1="46.6" x2="2.00" y2="45.400000000000006" stroke="#808080" stroke-width="0.6"/>
<line x1="11.53" y1="46.6" x2="12.53" y2="45.400000000000006" stroke="#808080" stroke-width="0.6"/>
<line x1="22.05" y1="46.6" x2="23.05" y2="45.400000000000006" stroke="#808080" stroke-width="0.6"/>
<line x1="32.58" y1="46.6" x2="33.58" y2="45.400000000000006" stroke="#808080" stroke-width="0.6"/>
<line x1="43.10" y1="46.6" x2="44.10" y2="45.400000000000006" stroke="#808080" stroke-width="0.6"/>
<text transform="translate(1.60 6.10) scale(1 1.12)" font-size="4.55" font-weight="bold" fill="#222" stroke="#222" stroke-width="0.3" text-anchor="start" >0.2%</text>
<text transform="translate(44.30 6.10) scale(1 1.12)" font-size="4.55" font-weight="bold" fill="#222" stroke="#222" stroke-width="0.3" text-anchor="end" >8.6%</text>
<text transform="translate(1.60 44.10) scale(1 1.12)" font-size="4.55" font-weight="bold" fill="#222" stroke="#222" stroke-width="0.3" text-anchor="start" >84.5%</text>
<text transform="translate(44.30 44.10) scale(1 1.12)" font-size="4.55" font-weight="bold" fill="#222" stroke="#222" stroke-width="0.3" text-anchor="end" >6.8%</text>
</g>
<g transform="translate(164.40 227.90)">
<rect x="0" y="0" width="21.00" height="21.0" fill="#cfcfcf"/>
<rect x="21.00" y="0" width="24.10" height="21.0" fill="#e5e5e5"/>
<rect x="0" y="21.0" width="21.00" height="23.20" fill="#fff"/>
<rect x="21.00" y="21.0" width="24.10" height="23.20" fill="#f4f4f4"/>
<clipPath id="f2"><rect x="0" y="0" width="45.1" height="44.2"/></clipPath>
<g clip-path="url(#f2)">
<g filter="url(#b2)">
<line x1="21.04" y1="25.66" x2="44.00" y2="6.83" stroke="#9db4ff" stroke-width="3.48" stroke-opacity="0.46" stroke-linecap="round"/>
<line x1="14.51" y1="31.51" x2="44.00" y2="6.83" stroke="#4f7cff" stroke-width="1.30" stroke-opacity="0.75" stroke-linecap="round"/>
<ellipse cx="31.52" cy="15.24" rx="14.85" ry="2.3" transform="rotate(-39.4 31.52 15.24)" fill="#a9bcff" fill-opacity="0.50"/>
</g>
<g filter="url(#b2)"><ellipse cx="14.51" cy="31.51" rx="10.36" ry="3.40" transform="rotate(-41.8 14.51 31.51)" fill="#8aa6ff" fill-opacity="0.5"/>
<ellipse cx="14.51" cy="31.51" rx="9.16" ry="2.20" transform="rotate(-41.8 14.51 31.51)" fill="#3566ff"/></g>
<g filter="url(#b3)" transform="rotate(-41.8 13.48 32.54)">
<ellipse cx="13.98" cy="32.54" rx="6.96" ry="1.63" fill="#19c4c0"/>
<ellipse cx="13.78" cy="32.54" rx="5.71" ry="1.23" fill="#45d23a"/>
<ellipse cx="13.48" cy="32.54" rx="3.48" ry="0.75" fill="#f2c41e"/>
<ellipse cx="13.48" cy="32.54" rx="1.95" ry="0.44" fill="#f0601e"/>
</g>
</g>
<line x1="21.00" y1="0" x2="21.00" y2="44.2" stroke="#858585" stroke-width="0.9"/>
<line x1="0" y1="21.0" x2="45.1" y2="21.0" stroke="#858585" stroke-width="0.9"/>
<path d="M0 0 L0 44.2 L45.1 44.2" fill="none" stroke="#9a9a9a" stroke-width="0.6"/>
<path d="M0 0 L45.1 0 L45.1 44.2" fill="none" stroke="#c8c8c8" stroke-width="0.5"/>
<line x1="-2.6" y1="1.00" x2="-1.4" y2="-0.20" stroke="#808080" stroke-width="0.6"/>
<line x1="-2.6" y1="11.85" x2="-1.4" y2="10.65" stroke="#808080" stroke-width="0.6"/>
<line x1="-2.6" y1="22.70" x2="-1.4" y2="21.50" stroke="#808080" stroke-width="0.6"/>
<line x1="-2.6" y1="33.55" x2="-1.4" y2="32.35" stroke="#808080" stroke-width="0.6"/>
<line x1="-2.6" y1="44.40" x2="-1.4" y2="43.20" stroke="#808080" stroke-width="0.6"/>
<line x1="1.00" y1="46.6" x2="2.00" y2="45.400000000000006" stroke="#808080" stroke-width="0.6"/>
<line x1="11.53" y1="46.6" x2="12.53" y2="45.400000000000006" stroke="#808080" stroke-width="0.6"/>
<line x1="22.05" y1="46.6" x2="23.05" y2="45.400000000000006" stroke="#808080" stroke-width="0.6"/>
<line x1="32.58" y1="46.6" x2="33.58" y2="45.400000000000006" stroke="#808080" stroke-width="0.6"/>
<line x1="43.10" y1="46.6" x2="44.10" y2="45.400000000000006" stroke="#808080" stroke-width="0.6"/>
<text transform="translate(1.60 6.10) scale(1 1.12)" font-size="4.55" font-weight="bold" fill="#222" stroke="#222" stroke-width="0.3" text-anchor="start" >0.2%</text>
<text transform="translate(44.30 6.10) scale(1 1.12)" font-size="4.55" font-weight="bold" fill="#222" stroke="#222" stroke-width="0.3" text-anchor="end" >11.3%</text>
<text transform="translate(1.60 44.10) scale(1 1.12)" font-size="4.55" font-weight="bold" fill="#222" stroke="#222" stroke-width="0.3" text-anchor="start" >71.3 %</text>
<text transform="translate(44.30 44.10) scale(1 1.12)" font-size="4.55" font-weight="bold" fill="#222" stroke="#222" stroke-width="0.3" text-anchor="end" >17.3%</text>
</g>
<g transform="translate(219.20 227.90)">
<rect x="0" y="0" width="20.50" height="21.0" fill="#cfcfcf"/>
<rect x="20.50" y="0" width="24.60" height="21.0" fill="#e5e5e5"/>
<rect x="0" y="21.0" width="20.50" height="23.20" fill="#fff"/>
<rect x="20.50" y="21.0" width="24.60" height="23.20" fill="#f4f4f4"/>
<clipPath id="f3"><rect x="0" y="0" width="45.1" height="44.2"/></clipPath>
<g clip-path="url(#f3)">
<g filter="url(#b2)">
<line x1="20.93" y1="25.25" x2="43.20" y2="6.83" stroke="#9db4ff" stroke-width="3.64" stroke-opacity="0.49" stroke-linecap="round"/>
<line x1="14.05" y1="31.64" x2="43.20" y2="6.83" stroke="#4f7cff" stroke-width="1.40" stroke-opacity="0.83" stroke-linecap="round"/>
<ellipse cx="31.06" cy="15.04" rx="14.45" ry="2.3" transform="rotate(-39.6 31.06 15.04)" fill="#a9bcff" fill-opacity="0.53"/>
</g>
<g filter="url(#b2)"><ellipse cx="14.05" cy="31.64" rx="10.99" ry="3.50" transform="rotate(-42.9 14.05 31.64)" fill="#8aa6ff" fill-opacity="0.5"/>
<ellipse cx="14.05" cy="31.64" rx="9.79" ry="2.30" transform="rotate(-42.9 14.05 31.64)" fill="#3566ff"/></g>
<g filter="url(#b3)" transform="rotate(-42.9 14.05 31.58)">
<ellipse cx="14.55" cy="31.58" rx="7.44" ry="1.70" fill="#19c4c0"/>
<ellipse cx="14.35" cy="31.58" rx="6.10" ry="1.29" fill="#45d23a"/>
<ellipse cx="14.05" cy="31.58" rx="3.72" ry="0.78" fill="#f2c41e"/>
<ellipse cx="14.05" cy="31.58" rx="2.08" ry="0.46" fill="#f0601e"/>
</g>
</g>
<line x1="20.50" y1="0" x2="20.50" y2="44.2" stroke="#858585" stroke-width="0.9"/>
<line x1="0" y1="21.0" x2="45.1" y2="21.0" stroke="#858585" stroke-width="0.9"/>
<path d="M0 0 L0 44.2 L45.1 44.2" fill="none" stroke="#9a9a9a" stroke-width="0.6"/>
<path d="M0 0 L45.1 0 L45.1 44.2" fill="none" stroke="#c8c8c8" stroke-width="0.5"/>
<line x1="-2.6" y1="1.00" x2="-1.4" y2="-0.20" stroke="#808080" stroke-width="0.6"/>
<line x1="-2.6" y1="11.85" x2="-1.4" y2="10.65" stroke="#808080" stroke-width="0.6"/>
<line x1="-2.6" y1="22.70" x2="-1.4" y2="21.50" stroke="#808080" stroke-width="0.6"/>
<line x1="-2.6" y1="33.55" x2="-1.4" y2="32.35" stroke="#808080" stroke-width="0.6"/>
<line x1="-2.6" y1="44.40" x2="-1.4" y2="43.20" stroke="#808080" stroke-width="0.6"/>
<line x1="1.00" y1="46.6" x2="2.00" y2="45.400000000000006" stroke="#808080" stroke-width="0.6"/>
<line x1="11.53" y1="46.6" x2="12.53" y2="45.400000000000006" stroke="#808080" stroke-width="0.6"/>
<line x1="22.05" y1="46.6" x2="23.05" y2="45.400000000000006" stroke="#808080" stroke-width="0.6"/>
<line x1="32.58" y1="46.6" x2="33.58" y2="45.400000000000006" stroke="#808080" stroke-width="0.6"/>
<line x1="43.10" y1="46.6" x2="44.10" y2="45.400000000000006" stroke="#808080" stroke-width="0.6"/>
<text transform="translate(1.60 6.10) scale(1 1.12)" font-size="4.55" font-weight="bold" fill="#222" stroke="#222" stroke-width="0.3" text-anchor="start" >0.1%</text>
<text transform="translate(44.30 6.10) scale(1 1.12)" font-size="4.55" font-weight="bold" fill="#222" stroke="#222" stroke-width="0.3" text-anchor="end" >15.9%</text>
<text transform="translate(1.60 44.10) scale(1 1.12)" font-size="4.55" font-weight="bold" fill="#222" stroke="#222" stroke-width="0.3" text-anchor="start" >70.3%</text>
<text transform="translate(44.30 44.10) scale(1 1.12)" font-size="4.55" font-weight="bold" fill="#222" stroke="#222" stroke-width="0.3" text-anchor="end" >9.9%</text>
</g>
<g transform="translate(55.20 283.10)">
<rect x="0" y="0" width="23.00" height="21.8" fill="#cfcfcf"/>
<rect x="23.00" y="0" width="22.10" height="21.8" fill="#e5e5e5"/>
<rect x="0" y="21.8" width="23.00" height="22.40" fill="#fff"/>
<rect x="23.00" y="21.8" width="22.10" height="22.40" fill="#f4f4f4"/>
<clipPath id="f4"><rect x="0" y="0" width="45.1" height="44.2"/></clipPath>
<g clip-path="url(#f4)">
<g filter="url(#b2)">
<line x1="20.93" y1="24.09" x2="43.20" y2="6.63" stroke="#9db4ff" stroke-width="2.44" stroke-opacity="0.27" stroke-linecap="round"/>
<line x1="11.99" y1="29.93" x2="43.20" y2="6.63" stroke="#4f7cff" stroke-width="0.65" stroke-opacity="0.26" stroke-linecap="round"/>
</g>
<g filter="url(#b2)"><ellipse cx="11.99" cy="29.93" rx="12.28" ry="4.20" transform="rotate(-33.2 11.99 29.93)" fill="#8aa6ff" fill-opacity="0.5"/>
<ellipse cx="11.99" cy="29.93" rx="11.08" ry="3.00" transform="rotate(-33.2 11.99 29.93)" fill="#3566ff"/></g>
<g filter="url(#b3)" transform="rotate(-33.2 10.61 32.75)">
<ellipse cx="11.11" cy="32.75" rx="8.42" ry="2.22" fill="#19c4c0"/>
<ellipse cx="10.91" cy="32.75" rx="6.90" ry="1.68" fill="#45d23a"/>
<ellipse cx="10.61" cy="32.75" rx="4.21" ry="1.02" fill="#f2c41e"/>
<ellipse cx="10.61" cy="32.75" rx="2.36" ry="0.60" fill="#f0601e"/>
</g>
</g>
<line x1="23.00" y1="0" x2="23.00" y2="44.2" stroke="#858585" stroke-width="0.9"/>
<line x1="0" y1="21.8" x2="45.1" y2="21.8" stroke="#858585" stroke-width="0.9"/>
<path d="M0 0 L0 44.2 L45.1 44.2" fill="none" stroke="#9a9a9a" stroke-width="0.6"/>
<path d="M0 0 L45.1 0 L45.1 44.2" fill="none" stroke="#c8c8c8" stroke-width="0.5"/>
<line x1="-2.6" y1="1.00" x2="-1.4" y2="-0.20" stroke="#808080" stroke-width="0.6"/>
<line x1="-2.6" y1="11.85" x2="-1.4" y2="10.65" stroke="#808080" stroke-width="0.6"/>
<line x1="-2.6" y1="22.70" x2="-1.4" y2="21.50" stroke="#808080" stroke-width="0.6"/>
<line x1="-2.6" y1="33.55" x2="-1.4" y2="32.35" stroke="#808080" stroke-width="0.6"/>
<line x1="-2.6" y1="44.40" x2="-1.4" y2="43.20" stroke="#808080" stroke-width="0.6"/>
<line x1="1.00" y1="46.6" x2="2.00" y2="45.400000000000006" stroke="#808080" stroke-width="0.6"/>
<line x1="11.53" y1="46.6" x2="12.53" y2="45.400000000000006" stroke="#808080" stroke-width="0.6"/>
<line x1="22.05" y1="46.6" x2="23.05" y2="45.400000000000006" stroke="#808080" stroke-width="0.6"/>
<line x1="32.58" y1="46.6" x2="33.58" y2="45.400000000000006" stroke="#808080" stroke-width="0.6"/>
<line x1="43.10" y1="46.6" x2="44.10" y2="45.400000000000006" stroke="#808080" stroke-width="0.6"/>
<text transform="translate(1.60 6.10) scale(1 1.12)" font-size="4.55" font-weight="bold" fill="#222" stroke="#222" stroke-width="0.3" text-anchor="start" >0.3%</text>
<text transform="translate(44.30 6.10) scale(1 1.12)" font-size="4.55" font-weight="bold" fill="#222" stroke="#222" stroke-width="0.3" text-anchor="end" >2.6%</text>
<text transform="translate(1.60 44.10) scale(1 1.12)" font-size="4.55" font-weight="bold" fill="#222" stroke="#222" stroke-width="0.3" text-anchor="start" >96.6%</text>
<text transform="translate(44.30 44.10) scale(1 1.12)" font-size="4.55" font-weight="bold" fill="#222" stroke="#222" stroke-width="0.3" text-anchor="end" >0.5%</text>
</g>
<g transform="translate(109.80 283.10)">
<rect x="0" y="0" width="22.70" height="21.8" fill="#cfcfcf"/>
<rect x="22.70" y="0" width="22.40" height="21.8" fill="#e5e5e5"/>
<rect x="0" y="21.8" width="22.70" height="22.40" fill="#fff"/>
<rect x="22.70" y="21.8" width="22.40" height="22.40" fill="#f4f4f4"/>
<clipPath id="f5"><rect x="0" y="0" width="45.1" height="44.2"/></clipPath>
<g clip-path="url(#f5)">
<g filter="url(#b2)">
<line x1="15.83" y1="31.65" x2="43.60" y2="6.63" stroke="#9db4ff" stroke-width="2.52" stroke-opacity="0.28" stroke-linecap="round"/>
<line x1="9.29" y1="37.49" x2="43.60" y2="6.63" stroke="#4f7cff" stroke-width="0.70" stroke-opacity="0.30" stroke-linecap="round"/>
</g>
<g filter="url(#b2)"><ellipse cx="9.29" cy="37.49" rx="10.36" ry="3.80" transform="rotate(-41.8 9.29 37.49)" fill="#8aa6ff" fill-opacity="0.5"/>
<ellipse cx="9.29" cy="37.49" rx="9.16" ry="2.60" transform="rotate(-41.8 9.29 37.49)" fill="#3566ff"/></g>
<g filter="url(#b3)" transform="rotate(-41.8 8.95 37.15)">
<ellipse cx="9.45" cy="37.15" rx="6.96" ry="1.92" fill="#19c4c0"/>
<ellipse cx="9.25" cy="37.15" rx="5.71" ry="1.46" fill="#45d23a"/>
<ellipse cx="8.95" cy="37.15" rx="3.48" ry="0.88" fill="#f2c41e"/>
<ellipse cx="8.95" cy="37.15" rx="1.95" ry="0.52" fill="#f0601e"/>
</g>
</g>
<line x1="22.70" y1="0" x2="22.70" y2="44.2" stroke="#858585" stroke-width="0.9"/>
<line x1="0" y1="21.8" x2="45.1" y2="21.8" stroke="#858585" stroke-width="0.9"/>
<path d="M0 0 L0 44.2 L45.1 44.2" fill="none" stroke="#9a9a9a" stroke-width="0.6"/>
<path d="M0 0 L45.1 0 L45.1 44.2" fill="none" stroke="#c8c8c8" stroke-width="0.5"/>
<line x1="-2.6" y1="1.00" x2="-1.4" y2="-0.20" stroke="#808080" stroke-width="0.6"/>
<line x1="-2.6" y1="11.85" x2="-1.4" y2="10.65" stroke="#808080" stroke-width="0.6"/>
<line x1="-2.6" y1="22.70" x2="-1.4" y2="21.50" stroke="#808080" stroke-width="0.6"/>
<line x1="-2.6" y1="33.55" x2="-1.4" y2="32.35" stroke="#808080" stroke-width="0.6"/>
<line x1="-2.6" y1="44.40" x2="-1.4" y2="43.20" stroke="#808080" stroke-width="0.6"/>
<line x1="1.00" y1="46.6" x2="2.00" y2="45.400000000000006" stroke="#808080" stroke-width="0.6"/>
<line x1="11.53" y1="46.6" x2="12.53" y2="45.400000000000006" stroke="#808080" stroke-width="0.6"/>
<line x1="22.05" y1="46.6" x2="23.05" y2="45.400000000000006" stroke="#808080" stroke-width="0.6"/>
<line x1="32.58" y1="46.6" x2="33.58" y2="45.400000000000006" stroke="#808080" stroke-width="0.6"/>
<line x1="43.10" y1="46.6" x2="44.10" y2="45.400000000000006" stroke="#808080" stroke-width="0.6"/>
<text transform="translate(1.60 6.10) scale(1 1.12)" font-size="4.55" font-weight="bold" fill="#222" stroke="#222" stroke-width="0.3" text-anchor="start" >0.1%</text>
<text transform="translate(44.30 6.10) scale(1 1.12)" font-size="4.55" font-weight="bold" fill="#222" stroke="#222" stroke-width="0.3" text-anchor="end" >2.4%</text>
<text transform="translate(1.60 44.10) scale(1 1.12)" font-size="4.55" font-weight="bold" fill="#222" stroke="#222" stroke-width="0.3" text-anchor="start" >96.9%</text>
<text transform="translate(44.30 44.10) scale(1 1.12)" font-size="4.55" font-weight="bold" fill="#222" stroke="#222" stroke-width="0.3" text-anchor="end" >0.5%</text>
</g>
<g transform="translate(164.40 283.10)">
<rect x="0" y="0" width="23.10" height="21.8" fill="#cfcfcf"/>
<rect x="23.10" y="0" width="22.00" height="21.8" fill="#e5e5e5"/>
<rect x="0" y="21.8" width="23.10" height="22.40" fill="#fff"/>
<rect x="23.10" y="21.8" width="22.00" height="22.40" fill="#f4f4f4"/>
<clipPath id="f6"><rect x="0" y="0" width="45.1" height="44.2"/></clipPath>
<g clip-path="url(#f6)">
<g filter="url(#b2)">
<line x1="23.10" y1="22.71" x2="44.00" y2="6.63" stroke="#9db4ff" stroke-width="3.00" stroke-opacity="0.37" stroke-linecap="round"/>
<line x1="16.23" y1="28.56" x2="44.00" y2="6.63" stroke="#4f7cff" stroke-width="1.00" stroke-opacity="0.53" stroke-linecap="round"/>
<ellipse cx="32.55" cy="13.67" rx="13.19" ry="2.3" transform="rotate(-37.6 32.55 13.67)" fill="#a9bcff" fill-opacity="0.42"/>
</g>
<g filter="url(#b2)"><ellipse cx="16.23" cy="28.56" rx="10.62" ry="3.90" transform="rotate(-40.4 16.23 28.56)" fill="#8aa6ff" fill-opacity="0.5"/>
<ellipse cx="16.23" cy="28.56" rx="9.42" ry="2.70" transform="rotate(-40.4 16.23 28.56)" fill="#3566ff"/></g>
<g filter="url(#b3)" transform="rotate(-40.4 14.85 29.59)">
<ellipse cx="15.35" cy="29.59" rx="7.16" ry="2.00" fill="#19c4c0"/>
<ellipse cx="15.15" cy="29.59" rx="5.87" ry="1.51" fill="#45d23a"/>
<ellipse cx="14.85" cy="29.59" rx="3.58" ry="0.92" fill="#f2c41e"/>
<ellipse cx="14.85" cy="29.59" rx="2.01" ry="0.54" fill="#f0601e"/>
</g>
</g>
<line x1="23.10" y1="0" x2="23.10" y2="44.2" stroke="#858585" stroke-width="0.9"/>
<line x1="0" y1="21.8" x2="45.1" y2="21.8" stroke="#858585" stroke-width="0.9"/>
<path d="M0 0 L0 44.2 L45.1 44.2" fill="none" stroke="#9a9a9a" stroke-width="0.6"/>
<path d="M0 0 L45.1 0 L45.1 44.2" fill="none" stroke="#c8c8c8" stroke-width="0.5"/>
<line x1="-2.6" y1="1.00" x2="-1.4" y2="-0.20" stroke="#808080" stroke-width="0.6"/>
<line x1="-2.6" y1="11.85" x2="-1.4" y2="10.65" stroke="#808080" stroke-width="0.6"/>
<line x1="-2.6" y1="22.70" x2="-1.4" y2="21.50" stroke="#808080" stroke-width="0.6"/>
<line x1="-2.6" y1="33.55" x2="-1.4" y2="32.35" stroke="#808080" stroke-width="0.6"/>
<line x1="-2.6" y1="44.40" x2="-1.4" y2="43.20" stroke="#808080" stroke-width="0.6"/>
<line x1="1.00" y1="46.6" x2="2.00" y2="45.400000000000006" stroke="#808080" stroke-width="0.6"/>
<line x1="11.53" y1="46.6" x2="12.53" y2="45.400000000000006" stroke="#808080" stroke-width="0.6"/>
<line x1="22.05" y1="46.6" x2="23.05" y2="45.400000000000006" stroke="#808080" stroke-width="0.6"/>
<line x1="32.58" y1="46.6" x2="33.58" y2="45.400000000000006" stroke="#808080" stroke-width="0.6"/>
<line x1="43.10" y1="46.6" x2="44.10" y2="45.400000000000006" stroke="#808080" stroke-width="0.6"/>
<text transform="translate(1.60 6.10) scale(1 1.12)" font-size="4.55" font-weight="bold" fill="#222" stroke="#222" stroke-width="0.3" text-anchor="start" >0.7%</text>
<text transform="translate(44.30 6.10) scale(1 1.12)" font-size="4.55" font-weight="bold" fill="#222" stroke="#222" stroke-width="0.3" text-anchor="end" >9.1%</text>
<text transform="translate(1.60 44.10) scale(1 1.12)" font-size="4.55" font-weight="bold" fill="#222" stroke="#222" stroke-width="0.3" text-anchor="start" >74.4%</text>
<text transform="translate(44.30 44.10) scale(1 1.12)" font-size="4.55" font-weight="bold" fill="#222" stroke="#222" stroke-width="0.3" text-anchor="end" >15.9%</text>
</g>
<g transform="translate(219.20 283.10)">
<rect x="0" y="0" width="23.00" height="21.8" fill="#cfcfcf"/>
<rect x="23.00" y="0" width="22.10" height="21.8" fill="#e5e5e5"/>
<rect x="0" y="21.8" width="23.00" height="22.40" fill="#fff"/>
<rect x="23.00" y="21.8" width="22.10" height="22.40" fill="#f4f4f4"/>
<clipPath id="f7"><rect x="0" y="0" width="45.1" height="44.2"/></clipPath>
<g clip-path="url(#f7)">
<g filter="url(#b2)">
<line x1="22.30" y1="22.71" x2="43.20" y2="6.63" stroke="#9db4ff" stroke-width="3.64" stroke-opacity="0.49" stroke-linecap="round"/>
<line x1="15.43" y1="29.24" x2="43.20" y2="6.63" stroke="#4f7cff" stroke-width="1.40" stroke-opacity="0.83" stroke-linecap="round"/>
<ellipse cx="31.75" cy="13.67" rx="13.19" ry="2.3" transform="rotate(-37.6 31.75 13.67)" fill="#a9bcff" fill-opacity="0.53"/>
<ellipse cx="35.10" cy="13" rx="12" ry="4.2" transform="rotate(-42 35.10 13)" fill="#86a6ff" fill-opacity="0.55"/>
<ellipse cx="36.60" cy="11.5" rx="8" ry="2.2" transform="rotate(-42 36.60 11.5)" fill="#4d86f5" fill-opacity="0.8"/>
<ellipse cx="38.60" cy="9.8" rx="4.2" ry="1.3" transform="rotate(-42 38.60 9.8)" fill="#22b4c0" fill-opacity="0.95"/>
</g>
<g filter="url(#b2)"><ellipse cx="15.43" cy="29.24" rx="11.08" ry="4.00" transform="rotate(-43.5 15.43 29.24)" fill="#8aa6ff" fill-opacity="0.5"/>
<ellipse cx="15.43" cy="29.24" rx="9.88" ry="2.80" transform="rotate(-43.5 15.43 29.24)" fill="#3566ff"/></g>
<g filter="url(#b3)" transform="rotate(-43.5 16.11 28.21)">
<ellipse cx="16.61" cy="28.21" rx="7.51" ry="2.07" fill="#19c4c0"/>
<ellipse cx="16.41" cy="28.21" rx="6.16" ry="1.57" fill="#45d23a"/>
<ellipse cx="16.11" cy="28.21" rx="3.76" ry="0.95" fill="#f2c41e"/>
<ellipse cx="16.11" cy="28.21" rx="2.10" ry="0.56" fill="#f0601e"/>
</g>
</g>
<line x1="23.00" y1="0" x2="23.00" y2="44.2" stroke="#858585" stroke-width="0.9"/>
<line x1="0" y1="21.8" x2="45.1" y2="21.8" stroke="#858585" stroke-width="0.9"/>
<path d="M0 0 L0 44.2 L45.1 44.2" fill="none" stroke="#9a9a9a" stroke-width="0.6"/>
<path d="M0 0 L45.1 0 L45.1 44.2" fill="none" stroke="#c8c8c8" stroke-width="0.5"/>
<line x1="-2.6" y1="1.00" x2="-1.4" y2="-0.20" stroke="#808080" stroke-width="0.6"/>
<line x1="-2.6" y1="11.85" x2="-1.4" y2="10.65" stroke="#808080" stroke-width="0.6"/>
<line x1="-2.6" y1="22.70" x2="-1.4" y2="21.50" stroke="#808080" stroke-width="0.6"/>
<line x1="-2.6" y1="33.55" x2="-1.4" y2="32.35" stroke="#808080" stroke-width="0.6"/>
<line x1="-2.6" y1="44.40" x2="-1.4" y2="43.20" stroke="#808080" stroke-width="0.6"/>
<line x1="1.00" y1="46.6" x2="2.00" y2="45.400000000000006" stroke="#808080" stroke-width="0.6"/>
<line x1="11.53" y1="46.6" x2="12.53" y2="45.400000000000006" stroke="#808080" stroke-width="0.6"/>
<line x1="22.05" y1="46.6" x2="23.05" y2="45.400000000000006" stroke="#808080" stroke-width="0.6"/>
<line x1="32.58" y1="46.6" x2="33.58" y2="45.400000000000006" stroke="#808080" stroke-width="0.6"/>
<line x1="43.10" y1="46.6" x2="44.10" y2="45.400000000000006" stroke="#808080" stroke-width="0.6"/>
<text transform="translate(1.60 6.10) scale(1 1.12)" font-size="4.55" font-weight="bold" fill="#222" stroke="#222" stroke-width="0.3" text-anchor="start" >2.3 %</text>
<text transform="translate(44.30 6.10) scale(1 1.12)" font-size="4.55" font-weight="bold" fill="#222" stroke="#222" stroke-width="0.3" text-anchor="end" >25.4 %</text>
<text transform="translate(1.60 44.10) scale(1 1.12)" font-size="4.55" font-weight="bold" fill="#222" stroke="#222" stroke-width="0.3" text-anchor="start" >65.3%</text>
<text transform="translate(44.30 44.10) scale(1 1.12)" font-size="4.55" font-weight="bold" fill="#222" stroke="#222" stroke-width="0.3" text-anchor="end" >7.1%</text>
</g>
<text transform="translate(359.60 184.60) scale(1 1.12)" font-size="6.4" font-weight="bold" fill="#111" stroke="#111" stroke-width="0.22" text-anchor="middle" >ES2</text>
<rect x="314.30" y="187.60" width="2.6" height="2.6" fill="#d9d9d9" stroke="#333" stroke-width="0.6"/>
<text transform="translate(317.90 191.00) scale(1 1.12)" font-size="5.1" font-weight="bold" fill="#222" stroke="#222" stroke-width="0.22" text-anchor="start" >Live</text>
<rect x="357.70" y="187.60" width="2.6" height="2.6" fill="#f6d253" stroke="#333" stroke-width="0.6"/>
<text transform="translate(361.30 191.00) scale(1 1.12)" font-size="5.1" font-weight="bold" fill="#222" stroke="#222" stroke-width="0.22" text-anchor="start" >Early apoptosis</text>
<rect x="314.30" y="194.00" width="2.6" height="2.6" fill="#8fc3ea" stroke="#333" stroke-width="0.6"/>
<text transform="translate(317.90 197.40) scale(1 1.12)" font-size="5.1" font-weight="bold" fill="#222" stroke="#222" stroke-width="0.22" text-anchor="start" >Late apoptosis</text>
<rect x="357.70" y="194.00" width="2.6" height="2.6" fill="#5aa84a" stroke="#333" stroke-width="0.6"/>
<text transform="translate(361.30 197.40) scale(1 1.12)" font-size="5.1" font-weight="bold" fill="#222" stroke="#222" stroke-width="0.22" text-anchor="start" >Necrosis</text>
<text transform="translate(309.40 203.20) scale(1 1.12)" font-size="5.6" font-weight="bold" fill="#111" stroke="#111" stroke-width="0.22" text-anchor="end" >100%</text>
<line x1="312.8" y1="201.40" x2="314.6" y2="201.40" stroke="#111" stroke-width="0.6"/>
<text transform="translate(309.40 214.52) scale(1 1.12)" font-size="5.6" font-weight="bold" fill="#111" stroke="#111" stroke-width="0.22" text-anchor="end" >80%</text>
<line x1="312.8" y1="212.72" x2="314.6" y2="212.72" stroke="#111" stroke-width="0.6"/>
<text transform="translate(309.40 225.84) scale(1 1.12)" font-size="5.6" font-weight="bold" fill="#111" stroke="#111" stroke-width="0.22" text-anchor="end" >60%</text>
<line x1="312.8" y1="224.04" x2="314.6" y2="224.04" stroke="#111" stroke-width="0.6"/>
<text transform="translate(309.40 237.16) scale(1 1.12)" font-size="5.6" font-weight="bold" fill="#111" stroke="#111" stroke-width="0.22" text-anchor="end" >40%</text>
<line x1="312.8" y1="235.36" x2="314.6" y2="235.36" stroke="#111" stroke-width="0.6"/>
<text transform="translate(309.40 248.48) scale(1 1.12)" font-size="5.6" font-weight="bold" fill="#111" stroke="#111" stroke-width="0.22" text-anchor="end" >20%</text>
<line x1="312.8" y1="246.68" x2="314.6" y2="246.68" stroke="#111" stroke-width="0.6"/>
<text transform="translate(309.40 259.80) scale(1 1.12)" font-size="5.6" font-weight="bold" fill="#111" stroke="#111" stroke-width="0.22" text-anchor="end" >0%</text>
<line x1="312.8" y1="258.00" x2="314.6" y2="258.00" stroke="#111" stroke-width="0.6"/>
<rect x="321.20" y="201.40" width="11" height="1.00" fill="#333" stroke="#444" stroke-width="0.55"/>
<rect x="321.20" y="202.40" width="11" height="55.60" fill="#c9c9c9" stroke="#444" stroke-width="0.55"/>
<rect x="345.70" y="201.40" width="11" height="4.60" fill="#8fc3ea" stroke="#444" stroke-width="0.55"/>
<rect x="345.70" y="206.00" width="11" height="4.30" fill="#f6d253" stroke="#444" stroke-width="0.55"/>
<rect x="345.70" y="210.30" width="11" height="47.70" fill="#c9c9c9" stroke="#444" stroke-width="0.55"/>
<rect x="370.20" y="201.40" width="11" height="6.20" fill="#8fc3ea" stroke="#444" stroke-width="0.55"/>
<rect x="370.20" y="207.60" width="11" height="10.00" fill="#f6d253" stroke="#444" stroke-width="0.55"/>
<rect x="370.20" y="217.60" width="11" height="40.40" fill="#c9c9c9" stroke="#444" stroke-width="0.55"/>
<rect x="394.80" y="201.40" width="11" height="9.60" fill="#8fc3ea" stroke="#444" stroke-width="0.55"/>
<rect x="394.80" y="211.00" width="11" height="6.00" fill="#f6d253" stroke="#444" stroke-width="0.55"/>
<rect x="394.80" y="217.00" width="11" height="41.00" fill="#c9c9c9" stroke="#444" stroke-width="0.55"/>
<line x1="314.6" y1="201.10" x2="314.6" y2="258.50" stroke="#111" stroke-width="1.3"/>
<line x1="314" y1="258.00" x2="412.4" y2="258.00" stroke="#111" stroke-width="1.15"/>
<line x1="338.9" y1="258.00" x2="338.9" y2="259.60" stroke="#111" stroke-width="0.6"/>
<line x1="363.4" y1="258.00" x2="363.4" y2="259.60" stroke="#111" stroke-width="0.6"/>
<line x1="387.9" y1="258.00" x2="387.9" y2="259.60" stroke="#111" stroke-width="0.6"/>
<line x1="412.2" y1="258.00" x2="412.2" y2="259.60" stroke="#111" stroke-width="0.6"/>
<text transform="translate(326.70 265.70) scale(1 1.12)" font-size="5.6" font-weight="bold" fill="#111" stroke="#111" stroke-width="0.22" text-anchor="middle" >0</text>
<text transform="translate(351.20 265.70) scale(1 1.12)" font-size="5.6" font-weight="bold" fill="#111" stroke="#111" stroke-width="0.22" text-anchor="middle" >5</text>
<text transform="translate(375.70 265.70) scale(1 1.12)" font-size="5.6" font-weight="bold" fill="#111" stroke="#111" stroke-width="0.22" text-anchor="middle" >10</text>
<text transform="translate(400.30 265.70) scale(1 1.12)" font-size="5.6" font-weight="bold" fill="#111" stroke="#111" stroke-width="0.22" text-anchor="middle" >15</text>
<text transform="translate(363.60 274.90) scale(1 1.12)" font-size="6.4" font-weight="bold" fill="#111" stroke="#111" stroke-width="0.22" text-anchor="middle" >Methiothepin</text>
<text transform="translate(288.30 228.70) rotate(-90) scale(1 1.15)" x="0" y="2.21" font-size="6.15" font-weight="bold" fill="#111" stroke="#111" stroke-width="0.22" text-anchor="middle">% of cells</text>
<text transform="translate(375.70 243.80) scale(1 1)" font-size="7.2" font-weight="bold" fill="#222" stroke="#222" stroke-width="0.22" text-anchor="middle" >*</text>
<text transform="translate(400.30 243.80) scale(1 1)" font-size="7.2" font-weight="bold" fill="#222" stroke="#222" stroke-width="0.22" text-anchor="middle" >***</text>
<text transform="translate(359.60 286.20) scale(1 1.12)" font-size="6.4" font-weight="bold" fill="#111" stroke="#111" stroke-width="0.22" text-anchor="middle" >OV90</text>
<rect x="314.30" y="289.60" width="2.6" height="2.6" fill="#d9d9d9" stroke="#333" stroke-width="0.6"/>
<text transform="translate(317.90 293.00) scale(1 1.12)" font-size="5.1" font-weight="bold" fill="#222" stroke="#222" stroke-width="0.22" text-anchor="start" >Live</text>
<rect x="357.70" y="289.60" width="2.6" height="2.6" fill="#f6d253" stroke="#333" stroke-width="0.6"/>
<text transform="translate(361.30 293.00) scale(1 1.12)" font-size="5.1" font-weight="bold" fill="#222" stroke="#222" stroke-width="0.22" text-anchor="start" >Early apoptosis</text>
<rect x="314.30" y="296.00" width="2.6" height="2.6" fill="#8fc3ea" stroke="#333" stroke-width="0.6"/>
<text transform="translate(317.90 299.40) scale(1 1.12)" font-size="5.1" font-weight="bold" fill="#222" stroke="#222" stroke-width="0.22" text-anchor="start" >Late apoptosis</text>
<rect x="357.70" y="296.00" width="2.6" height="2.6" fill="#5aa84a" stroke="#333" stroke-width="0.6"/>
<text transform="translate(361.30 299.40) scale(1 1.12)" font-size="5.1" font-weight="bold" fill="#222" stroke="#222" stroke-width="0.22" text-anchor="start" >Necrosis</text>
<text transform="translate(309.40 305.80) scale(1 1.12)" font-size="5.6" font-weight="bold" fill="#111" stroke="#111" stroke-width="0.22" text-anchor="end" >100%</text>
<line x1="312.8" y1="304.00" x2="314.6" y2="304.00" stroke="#111" stroke-width="0.6"/>
<text transform="translate(309.40 317.20) scale(1 1.12)" font-size="5.6" font-weight="bold" fill="#111" stroke="#111" stroke-width="0.22" text-anchor="end" >80%</text>
<line x1="312.8" y1="315.40" x2="314.6" y2="315.40" stroke="#111" stroke-width="0.6"/>
<text transform="translate(309.40 328.60) scale(1 1.12)" font-size="5.6" font-weight="bold" fill="#111" stroke="#111" stroke-width="0.22" text-anchor="end" >60%</text>
<line x1="312.8" y1="326.80" x2="314.6" y2="326.80" stroke="#111" stroke-width="0.6"/>
<text transform="translate(309.40 340.00) scale(1 1.12)" font-size="5.6" font-weight="bold" fill="#111" stroke="#111" stroke-width="0.22" text-anchor="end" >40%</text>
<line x1="312.8" y1="338.20" x2="314.6" y2="338.20" stroke="#111" stroke-width="0.6"/>
<text transform="translate(309.40 351.40) scale(1 1.12)" font-size="5.6" font-weight="bold" fill="#111" stroke="#111" stroke-width="0.22" text-anchor="end" >20%</text>
<line x1="312.8" y1="349.60" x2="314.6" y2="349.60" stroke="#111" stroke-width="0.6"/>
<text transform="translate(309.40 362.80) scale(1 1.12)" font-size="5.6" font-weight="bold" fill="#111" stroke="#111" stroke-width="0.22" text-anchor="end" >0%</text>
<line x1="312.8" y1="361.00" x2="314.6" y2="361.00" stroke="#111" stroke-width="0.6"/>
<rect x="321.20" y="304.00" width="11" height="1.00" fill="#3f6f9f" stroke="#444" stroke-width="0.55"/>
<rect x="321.20" y="305.00" width="11" height="56.00" fill="#c9c9c9" stroke="#444" stroke-width="0.55"/>
<rect x="345.70" y="304.00" width="11" height="1.00" fill="#3f6f9f" stroke="#444" stroke-width="0.55"/>
<rect x="345.70" y="305.00" width="11" height="56.00" fill="#c9c9c9" stroke="#444" stroke-width="0.55"/>
<rect x="370.20" y="304.00" width="11" height="5.40" fill="#8fc3ea" stroke="#444" stroke-width="0.55"/>
<rect x="370.20" y="309.40" width="11" height="9.20" fill="#f6d253" stroke="#444" stroke-width="0.55"/>
<rect x="370.20" y="318.60" width="11" height="42.40" fill="#c9c9c9" stroke="#444" stroke-width="0.55"/>
<rect x="394.80" y="304.00" width="11" height="1.30" fill="#5aa84a" stroke="#444" stroke-width="0.55"/>
<rect x="394.80" y="305.30" width="11" height="14.30" fill="#8fc3ea" stroke="#444" stroke-width="0.55"/>
<rect x="394.80" y="319.60" width="11" height="3.80" fill="#f6d253" stroke="#444" stroke-width="0.55"/>
<rect x="394.80" y="323.40" width="11" height="37.60" fill="#c9c9c9" stroke="#444" stroke-width="0.55"/>
<line x1="314.6" y1="303.70" x2="314.6" y2="361.50" stroke="#111" stroke-width="1.3"/>
<line x1="314" y1="361.00" x2="412.4" y2="361.00" stroke="#111" stroke-width="1.15"/>
<line x1="338.9" y1="361.00" x2="338.9" y2="362.60" stroke="#111" stroke-width="0.6"/>
<line x1="363.4" y1="361.00" x2="363.4" y2="362.60" stroke="#111" stroke-width="0.6"/>
<line x1="387.9" y1="361.00" x2="387.9" y2="362.60" stroke="#111" stroke-width="0.6"/>
<line x1="412.2" y1="361.00" x2="412.2" y2="362.60" stroke="#111" stroke-width="0.6"/>
<text transform="translate(326.70 368.60) scale(1 1.12)" font-size="5.6" font-weight="bold" fill="#111" stroke="#111" stroke-width="0.22" text-anchor="middle" >0</text>
<text transform="translate(351.20 368.60) scale(1 1.12)" font-size="5.6" font-weight="bold" fill="#111" stroke="#111" stroke-width="0.22" text-anchor="middle" >5</text>
<text transform="translate(375.70 368.60) scale(1 1.12)" font-size="5.6" font-weight="bold" fill="#111" stroke="#111" stroke-width="0.22" text-anchor="middle" >10</text>
<text transform="translate(400.30 368.60) scale(1 1.12)" font-size="5.6" font-weight="bold" fill="#111" stroke="#111" stroke-width="0.22" text-anchor="middle" >15</text>
<text transform="translate(363.60 377.80) scale(1 1.12)" font-size="6.4" font-weight="bold" fill="#111" stroke="#111" stroke-width="0.22" text-anchor="middle" >Methiothepin</text>
<text transform="translate(288.30 331.50) rotate(-90) scale(1 1.15)" x="0" y="2.21" font-size="6.15" font-weight="bold" fill="#111" stroke="#111" stroke-width="0.22" text-anchor="middle">% of cells</text>
<text transform="translate(375.70 346.30) scale(1 1)" font-size="7.2" font-weight="bold" fill="#222" stroke="#222" stroke-width="0.22" text-anchor="middle" >**</text>
<text transform="translate(400.30 346.30) scale(1 1)" font-size="7.2" font-weight="bold" fill="#222" stroke="#222" stroke-width="0.22" text-anchor="middle" >***</text>
<text transform="translate(504.00 186.20) scale(1 1.12)" font-size="6.2" font-weight="bold" fill="#111" stroke="#111" stroke-width="0.22" text-anchor="middle" >ES2</text>
<line x1="468.9" y1="200.40" x2="468.9" y2="259.00" stroke="#000" stroke-width="1.3"/>
<line x1="468.5" y1="258.60" x2="544.5" y2="258.60" stroke="#000" stroke-width="1.3"/>
<line x1="467.09999999999997" y1="258.60" x2="468.9" y2="258.60" stroke="#111" stroke-width="0.7"/>
<text transform="translate(464.00 260.40) scale(1 1.12)" font-size="5.0" font-weight="bold" fill="#111" stroke="#111" stroke-width="0.22" text-anchor="end" >0</text>
<line x1="467.09999999999997" y1="247.02" x2="468.9" y2="247.02" stroke="#111" stroke-width="0.7"/>
<text transform="translate(464.00 248.82) scale(1 1.12)" font-size="5.0" font-weight="bold" fill="#111" stroke="#111" stroke-width="0.22" text-anchor="end" >100</text>
<line x1="467.09999999999997" y1="235.44" x2="468.9" y2="235.44" stroke="#111" stroke-width="0.7"/>
<text transform="translate(464.00 237.24) scale(1 1.12)" font-size="5.0" font-weight="bold" fill="#111" stroke="#111" stroke-width="0.22" text-anchor="end" >200</text>
<line x1="467.09999999999997" y1="223.86" x2="468.9" y2="223.86" stroke="#111" stroke-width="0.7"/>
<text transform="translate(464.00 225.66) scale(1 1.12)" font-size="5.0" font-weight="bold" fill="#111" stroke="#111" stroke-width="0.22" text-anchor="end" >300</text>
<line x1="467.09999999999997" y1="212.28" x2="468.9" y2="212.28" stroke="#111" stroke-width="0.7"/>
<text transform="translate(464.00 214.08) scale(1 1.12)" font-size="5.0" font-weight="bold" fill="#111" stroke="#111" stroke-width="0.22" text-anchor="end" >400</text>
<line x1="467.09999999999997" y1="200.70" x2="468.9" y2="200.70" stroke="#111" stroke-width="0.7"/>
<text transform="translate(464.00 202.50) scale(1 1.12)" font-size="5.0" font-weight="bold" fill="#111" stroke="#111" stroke-width="0.22" text-anchor="end" >500</text>
<line x1="479.1" y1="247.02" x2="479.1" y2="244.70" stroke="#000" stroke-width="1.2"/>
<line x1="475.20000000000005" y1="244.70" x2="483.0" y2="244.70" stroke="#000" stroke-width="1.2"/>
<rect x="473.50" y="247.02" width="11.2" height="11.58" fill="#f2f2f2" stroke="#000" stroke-width="1.0"/>
<line x1="498.0" y1="208.34" x2="498.0" y2="204.17" stroke="#000" stroke-width="1.2"/>
<line x1="494.1" y1="204.17" x2="501.9" y2="204.17" stroke="#000" stroke-width="1.2"/>
<rect x="492.40" y="208.34" width="11.2" height="50.26" fill="#1f1fe8" stroke="#000" stroke-width="1.0"/>
<line x1="516.6" y1="245.63" x2="516.6" y2="240.42" stroke="#000" stroke-width="1.2"/>
<line x1="512.7" y1="240.42" x2="520.5" y2="240.42" stroke="#000" stroke-width="1.2"/>
<rect x="511.00" y="245.63" width="11.2" height="12.97" fill="#2f5f2a" stroke="#000" stroke-width="1.0"/>
<line x1="535.5" y1="231.97" x2="535.5" y2="228.72" stroke="#000" stroke-width="1.2"/>
<line x1="531.6" y1="228.72" x2="539.4" y2="228.72" stroke="#000" stroke-width="1.2"/>
<rect x="529.90" y="231.97" width="11.2" height="26.63" fill="#050505" stroke="#000" stroke-width="1.0"/>
<path d="M498 204 L498 197.7 L535.8 197.7 L535.8 226" fill="none" stroke="#000" stroke-width="1.15"/>
<path d="M516.9 239.7 L516.9 216.6 L535.8 216.6" fill="none" stroke="#000" stroke-width="1.15"/>
<text transform="translate(516.50 199.90) scale(1 1)" font-size="11.5" font-weight="bold" fill="#111" stroke="#111" stroke-width="0.45" text-anchor="middle" >***</text>
<text transform="translate(526.20 218.80) scale(1 1)" font-size="11.5" font-weight="bold" fill="#111" stroke="#111" stroke-width="0.45" text-anchor="middle" >***</text>
<text transform="translate(466.30 269.00) scale(1 1.12)" font-size="6.4" font-weight="bold" fill="#111" stroke="#111" stroke-width="0.22" text-anchor="end" >Methiothepin</text>
<text transform="translate(466.30 276.80) scale(1 1.12)" font-size="6.4" font-weight="bold" fill="#111" stroke="#111" stroke-width="0.22" text-anchor="end" >Z-VAD FMK</text>
<text transform="translate(479.10 269.00) scale(1 1.12)" font-size="6.6" font-weight="bold" fill="#111" stroke="#111" stroke-width="0.22" text-anchor="middle" >-</text>
<text transform="translate(479.10 276.80) scale(1 1.12)" font-size="6.6" font-weight="bold" fill="#111" stroke="#111" stroke-width="0.22" text-anchor="middle" >-</text>
<text transform="translate(498.00 269.00) scale(1 1.12)" font-size="6.6" font-weight="bold" fill="#111" stroke="#111" stroke-width="0.22" text-anchor="middle" >+</text>
<text transform="translate(498.00 276.80) scale(1 1.12)" font-size="6.6" font-weight="bold" fill="#111" stroke="#111" stroke-width="0.22" text-anchor="middle" >-</text>
<text transform="translate(516.60 269.00) scale(1 1.12)" font-size="6.6" font-weight="bold" fill="#111" stroke="#111" stroke-width="0.22" text-anchor="middle" >-</text>
<text transform="translate(516.60 276.80) scale(1 1.12)" font-size="6.6" font-weight="bold" fill="#111" stroke="#111" stroke-width="0.22" text-anchor="middle" >+</text>
<text transform="translate(535.50 269.00) scale(1 1.12)" font-size="6.6" font-weight="bold" fill="#111" stroke="#111" stroke-width="0.22" text-anchor="middle" >+</text>
<text transform="translate(535.50 276.80) scale(1 1.12)" font-size="6.6" font-weight="bold" fill="#111" stroke="#111" stroke-width="0.22" text-anchor="middle" >+</text>
<text transform="translate(438.40 225.40) rotate(-90) scale(1 1.05)" x="0" y="2.27" font-size="6.3" font-weight="bold" fill="#111" stroke="#111" stroke-width="0.22" text-anchor="middle">Relative Caspase 3/7</text>
<text transform="translate(446.60 225.40) rotate(-90) scale(1 1.05)" x="0" y="2.27" font-size="6.3" font-weight="bold" fill="#111" stroke="#111" stroke-width="0.22" text-anchor="middle">Activity (%)</text>
<text transform="translate(504.00 287.50) scale(1 1.12)" font-size="6.2" font-weight="bold" fill="#111" stroke="#111" stroke-width="0.22" text-anchor="middle" >OV90</text>
<line x1="468.9" y1="302.50" x2="468.9" y2="361.40" stroke="#000" stroke-width="1.3"/>
<line x1="468.5" y1="361.00" x2="544.5" y2="361.00" stroke="#000" stroke-width="1.3"/>
<line x1="467.09999999999997" y1="361.00" x2="468.9" y2="361.00" stroke="#111" stroke-width="0.7"/>
<text transform="translate(464.00 362.80) scale(1 1.12)" font-size="5.0" font-weight="bold" fill="#111" stroke="#111" stroke-width="0.22" text-anchor="end" >0</text>
<line x1="467.09999999999997" y1="346.45" x2="468.9" y2="346.45" stroke="#111" stroke-width="0.7"/>
<text transform="translate(464.00 348.25) scale(1 1.12)" font-size="5.0" font-weight="bold" fill="#111" stroke="#111" stroke-width="0.22" text-anchor="end" >200</text>
<line x1="467.09999999999997" y1="331.90" x2="468.9" y2="331.90" stroke="#111" stroke-width="0.7"/>
<text transform="translate(464.00 333.70) scale(1 1.12)" font-size="5.0" font-weight="bold" fill="#111" stroke="#111" stroke-width="0.22" text-anchor="end" >400</text>
<line x1="467.09999999999997" y1="317.35" x2="468.9" y2="317.35" stroke="#111" stroke-width="0.7"/>
<text transform="translate(464.00 319.15) scale(1 1.12)" font-size="5.0" font-weight="bold" fill="#111" stroke="#111" stroke-width="0.22" text-anchor="end" >600</text>
<line x1="467.09999999999997" y1="302.80" x2="468.9" y2="302.80" stroke="#111" stroke-width="0.7"/>
<text transform="translate(464.00 304.60) scale(1 1.12)" font-size="5.0" font-weight="bold" fill="#111" stroke="#111" stroke-width="0.22" text-anchor="end" >800</text>
<line x1="479.1" y1="353.73" x2="479.1" y2="351.91" stroke="#000" stroke-width="1.2"/>
<line x1="475.20000000000005" y1="351.91" x2="483.0" y2="351.91" stroke="#000" stroke-width="1.2"/>
<rect x="473.50" y="353.73" width="11.2" height="7.27" fill="#f2f2f2" stroke="#000" stroke-width="1.0"/>
<line x1="498.0" y1="309.13" x2="498.0" y2="304.84" stroke="#000" stroke-width="1.2"/>
<line x1="494.1" y1="304.84" x2="501.9" y2="304.84" stroke="#000" stroke-width="1.2"/>
<rect x="492.40" y="309.13" width="11.2" height="51.87" fill="#1f1fe8" stroke="#000" stroke-width="1.0"/>
<line x1="516.6" y1="352.27" x2="516.6" y2="347.18" stroke="#000" stroke-width="1.2"/>
<line x1="512.7" y1="347.18" x2="520.5" y2="347.18" stroke="#000" stroke-width="1.2"/>
<rect x="511.00" y="352.27" width="11.2" height="8.73" fill="#2e7d32" stroke="#000" stroke-width="1.0"/>
<line x1="535.5" y1="322.08" x2="535.5" y2="316.99" stroke="#000" stroke-width="1.2"/>
<line x1="531.6" y1="316.99" x2="539.4" y2="316.99" stroke="#000" stroke-width="1.2"/>
<rect x="529.90" y="322.08" width="11.2" height="38.92" fill="#050505" stroke="#000" stroke-width="1.0"/>
<path d="M498 304.8 L498 298.5 L535.8 298.5 L535.8 317" fill="none" stroke="#000" stroke-width="1.15"/>
<path d="M516.9 344.8 L516.9 312.6 L535.8 312.6" fill="none" stroke="#000" stroke-width="1.15"/>
<text transform="translate(516.50 300.70) scale(1 1)" font-size="11.5" font-weight="bold" fill="#111" stroke="#111" stroke-width="0.45" text-anchor="middle" >***</text>
<text transform="translate(526.20 314.80) scale(1 1)" font-size="11.5" font-weight="bold" fill="#111" stroke="#111" stroke-width="0.45" text-anchor="middle" >***</text>
<text transform="translate(466.30 372.00) scale(1 1.12)" font-size="6.4" font-weight="bold" fill="#111" stroke="#111" stroke-width="0.22" text-anchor="end" >Methiothepin</text>
<text transform="translate(466.30 379.80) scale(1 1.12)" font-size="6.4" font-weight="bold" fill="#111" stroke="#111" stroke-width="0.22" text-anchor="end" >Z-VAD FMK</text>
<text transform="translate(479.10 372.00) scale(1 1.12)" font-size="6.6" font-weight="bold" fill="#111" stroke="#111" stroke-width="0.22" text-anchor="middle" >-</text>
<text transform="translate(479.10 379.80) scale(1 1.12)" font-size="6.6" font-weight="bold" fill="#111" stroke="#111" stroke-width="0.22" text-anchor="middle" >-</text>
<text transform="translate(498.00 372.00) scale(1 1.12)" font-size="6.6" font-weight="bold" fill="#111" stroke="#111" stroke-width="0.22" text-anchor="middle" >+</text>
<text transform="translate(498.00 379.80) scale(1 1.12)" font-size="6.6" font-weight="bold" fill="#111" stroke="#111" stroke-width="0.22" text-anchor="middle" >-</text>
<text transform="translate(516.60 372.00) scale(1 1.12)" font-size="6.6" font-weight="bold" fill="#111" stroke="#111" stroke-width="0.22" text-anchor="middle" >-</text>
<text transform="translate(516.60 379.80) scale(1 1.12)" font-size="6.6" font-weight="bold" fill="#111" stroke="#111" stroke-width="0.22" text-anchor="middle" >+</text>
<text transform="translate(535.50 372.00) scale(1 1.12)" font-size="6.6" font-weight="bold" fill="#111" stroke="#111" stroke-width="0.22" text-anchor="middle" >+</text>
<text transform="translate(535.50 379.80) scale(1 1.12)" font-size="6.6" font-weight="bold" fill="#111" stroke="#111" stroke-width="0.22" text-anchor="middle" >+</text>
<text transform="translate(438.40 328.40) rotate(-90) scale(1 1.05)" x="0" y="2.27" font-size="6.3" font-weight="bold" fill="#111" stroke="#111" stroke-width="0.22" text-anchor="middle">Relative Caspase 3/7</text>
<text transform="translate(446.60 328.40) rotate(-90) scale(1 1.05)" x="0" y="2.27" font-size="6.3" font-weight="bold" fill="#111" stroke="#111" stroke-width="0.22" text-anchor="middle">Activity (%)</text>
</svg>
</body></html>
